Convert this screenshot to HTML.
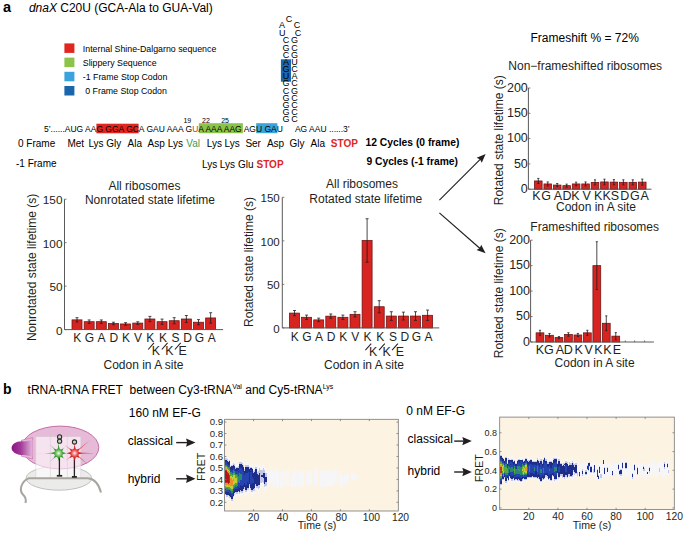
<!DOCTYPE html>
<html><head><meta charset="utf-8"><style>
html,body{margin:0;padding:0;background:#fff;}
svg{display:block;font-family:"Liberation Sans",sans-serif;}
</style></head><body>
<svg width="685" height="535" viewBox="0 0 685 535" fill="#231f20">
<text x="2.9" y="12.1" font-size="14.5" font-weight="bold" fill="#000">a</text>
<text x="28.9" y="12.4" font-size="12" fill="#000"><tspan font-style="italic">dnaX</tspan> C20U (GCA-Ala to GUA-Val)</text>
<rect x="64.40" y="43.40" width="10.00" height="9.50" fill="#e0261f"/>
<text x="82.8" y="51.6" font-size="8.8" fill="#000">Internal Shine-Dalgarno sequence</text>
<rect x="64.40" y="57.60" width="10.00" height="9.50" fill="#8cc34b"/>
<text x="82.8" y="65.8" font-size="8.8" fill="#000">Slippery Sequence</text>
<rect x="64.40" y="71.80" width="10.00" height="9.50" fill="#3ba3dc"/>
<text x="82.8" y="80.0" font-size="8.8" fill="#000">-1 Frame Stop Codon</text>
<rect x="64.40" y="86.00" width="10.00" height="9.50" fill="#1a66ac"/>
<text x="82.8" y="94.2" font-size="8.8" fill="#000">&#160;0 Frame Stop Codon</text>
<rect x="96.40" y="123.70" width="42.20" height="9.60" fill="#e0261f"/>
<rect x="198.80" y="123.20" width="44.10" height="10.00" fill="#8cc34b"/>
<rect x="256.20" y="123.20" width="21.20" height="10.00" fill="#3ba3dc"/>
<text x="183.4" y="122.6" font-size="7" fill="#000">19</text>
<text x="202" y="122.6" font-size="7" fill="#000">22</text>
<text x="221.2" y="122.6" font-size="7" fill="#000">25</text>
<text id="seq" x="44" y="131.9" font-size="8.5" fill="#000" textLength="238.8" lengthAdjust="spacing">5&#8217;......AUG AAG GGA GCA GAU AAA G<tspan fill="#e0261f">U</tspan>A AAA AAG AGU GAU</text>
<text x="294.9" y="131.9" font-size="8.5" fill="#000">AG AAU ......3&#8217;</text>
<rect x="280.90" y="59.30" width="10.10" height="22.40" fill="#1a66ac"/>
<text x="286" y="43.4" font-size="9" text-anchor="middle" fill="#000">C</text>
<text x="294.5" y="43.4" font-size="9" text-anchor="middle" fill="#000">G</text>
<text x="286" y="50.56" font-size="9" text-anchor="middle" fill="#000">G</text>
<text x="294.5" y="50.56" font-size="9" text-anchor="middle" fill="#000">C</text>
<text x="286" y="57.72" font-size="9" text-anchor="middle" fill="#000">C</text>
<text x="294.5" y="57.72" font-size="9" text-anchor="middle" fill="#000">G</text>
<text x="286" y="64.88" font-size="9" text-anchor="middle" fill="#000">A</text>
<text x="294.5" y="64.88" font-size="9" text-anchor="middle" fill="#000">U</text>
<text x="286" y="72.04" font-size="9" text-anchor="middle" fill="#000">G</text>
<text x="294.5" y="72.04" font-size="9" text-anchor="middle" fill="#000">C</text>
<text x="286" y="79.2" font-size="9" text-anchor="middle" fill="#000">U</text>
<text x="294.5" y="79.2" font-size="9" text-anchor="middle" fill="#000">A</text>
<text x="286" y="86.36" font-size="9" text-anchor="middle" fill="#000">G</text>
<text x="294.5" y="86.36" font-size="9" text-anchor="middle" fill="#000">C</text>
<text x="286" y="93.52" font-size="9" text-anchor="middle" fill="#000">C</text>
<text x="294.5" y="93.52" font-size="9" text-anchor="middle" fill="#000">G</text>
<text x="286" y="100.68" font-size="9" text-anchor="middle" fill="#000">G</text>
<text x="294.5" y="100.68" font-size="9" text-anchor="middle" fill="#000">C</text>
<text x="286" y="107.84" font-size="9" text-anchor="middle" fill="#000">G</text>
<text x="294.5" y="107.84" font-size="9" text-anchor="middle" fill="#000">C</text>
<text x="286" y="115.0" font-size="9" text-anchor="middle" fill="#000">G</text>
<text x="294.5" y="115.0" font-size="9" text-anchor="middle" fill="#000">C</text>
<text x="286" y="122.16" font-size="9" text-anchor="middle" fill="#000">G</text>
<text x="294.5" y="122.16" font-size="9" text-anchor="middle" fill="#000">C</text>
<text x="289" y="21.6" font-size="9" text-anchor="middle" fill="#000">C</text>
<text x="282" y="28.3" font-size="9" text-anchor="middle" fill="#000">A</text>
<text x="297" y="28.3" font-size="9" text-anchor="middle" fill="#000">C</text>
<text x="282.3" y="36.2" font-size="9" text-anchor="middle" fill="#000">U</text>
<text x="298" y="36.2" font-size="9" text-anchor="middle" fill="#000">C</text>
<text x="18" y="146.8" font-size="10" fill="#000">0 Frame</text>
<text x="16" y="167.0" font-size="10" fill="#000">-1 Frame</text>
<text x="67.4" y="146.8" font-size="10" fill="#000">Met</text>
<text x="88.4" y="146.8" font-size="10" fill="#000">Lys</text>
<text x="106.2" y="146.8" font-size="10" fill="#000">Gly</text>
<text x="127.6" y="146.8" font-size="10" fill="#000">Ala</text>
<text x="147.6" y="146.8" font-size="10" fill="#000">Asp</text>
<text x="167.7" y="146.8" font-size="10" fill="#000">Lys</text>
<text x="186.3" y="146.8" font-size="10" fill="#3a9a5b">Val</text>
<text x="206.8" y="146.8" font-size="10" fill="#000">Lys</text>
<text x="224.5" y="146.8" font-size="10" fill="#000">Lys</text>
<text x="245.4" y="146.8" font-size="10" fill="#000">Ser</text>
<text x="266.9" y="146.8" font-size="10" fill="#000">Asp</text>
<text x="289.4" y="146.8" font-size="10" fill="#000">Gly</text>
<text x="310.5" y="146.8" font-size="10" fill="#000">Ala</text>
<text x="330.8" y="146.8" font-size="10" font-weight="bold" fill="#e0261f">STOP</text>
<text x="202.1" y="167.5" font-size="10" fill="#000">Lys</text>
<text x="219.8" y="167.5" font-size="10" fill="#000">Lys</text>
<text x="238.1" y="167.5" font-size="10" fill="#000">Glu</text>
<text x="256.5" y="167.5" font-size="10" font-weight="bold" fill="#e0261f">STOP</text>
<text x="365.5" y="145.6" font-size="10.3" font-weight="bold" fill="#000">12 Cycles (0 frame)</text>
<text x="366.4" y="164.8" font-size="10.3" font-weight="bold" fill="#000">9 Cycles (-1 frame)</text>
<line x1="439.40" y1="200.10" x2="480.65" y2="158.85" stroke="#231f20" stroke-width="1.2"/>
<polygon points="485.60,153.90 481.78,162.81 480.08,159.42 476.69,157.72" fill="#231f20"/>
<line x1="439.40" y1="212.90" x2="480.33" y2="248.69" stroke="#231f20" stroke-width="1.2"/>
<polygon points="485.60,253.30 476.46,250.09 479.73,248.17 481.19,244.67" fill="#231f20"/>
<text x="530.5" y="41.6" font-size="12" fill="#000">Frameshift % = 72%</text>
<rect x="72.00" y="319.86" width="10.00" height="9.74" fill="#d82420" stroke="#6a1212" stroke-width="0.75"/>
<line x1="77.00" y1="317.69" x2="77.00" y2="322.04" stroke="#1a1a1a" stroke-width="0.8"/>
<line x1="75.50" y1="317.69" x2="78.50" y2="317.69" stroke="#222" stroke-width="0.8"/>
<line x1="75.50" y1="322.04" x2="78.50" y2="322.04" stroke="#222" stroke-width="0.8"/>
<rect x="84.15" y="321.69" width="10.00" height="7.91" fill="#d82420" stroke="#6a1212" stroke-width="0.75"/>
<line x1="89.15" y1="319.95" x2="89.15" y2="323.43" stroke="#1a1a1a" stroke-width="0.8"/>
<line x1="87.65" y1="319.95" x2="90.65" y2="319.95" stroke="#222" stroke-width="0.8"/>
<line x1="87.65" y1="323.43" x2="90.65" y2="323.43" stroke="#222" stroke-width="0.8"/>
<rect x="96.30" y="321.69" width="10.00" height="7.91" fill="#d82420" stroke="#6a1212" stroke-width="0.75"/>
<line x1="101.30" y1="319.95" x2="101.30" y2="323.43" stroke="#1a1a1a" stroke-width="0.8"/>
<line x1="99.80" y1="319.95" x2="102.80" y2="319.95" stroke="#222" stroke-width="0.8"/>
<line x1="99.80" y1="323.43" x2="102.80" y2="323.43" stroke="#222" stroke-width="0.8"/>
<rect x="108.45" y="323.51" width="10.00" height="6.09" fill="#d82420" stroke="#6a1212" stroke-width="0.75"/>
<line x1="113.45" y1="322.21" x2="113.45" y2="324.82" stroke="#1a1a1a" stroke-width="0.8"/>
<line x1="111.95" y1="322.21" x2="114.95" y2="322.21" stroke="#222" stroke-width="0.8"/>
<line x1="111.95" y1="324.82" x2="114.95" y2="324.82" stroke="#222" stroke-width="0.8"/>
<rect x="120.60" y="323.95" width="10.00" height="5.65" fill="#d82420" stroke="#6a1212" stroke-width="0.75"/>
<line x1="125.60" y1="322.65" x2="125.60" y2="325.25" stroke="#1a1a1a" stroke-width="0.8"/>
<line x1="124.10" y1="322.65" x2="127.10" y2="322.65" stroke="#222" stroke-width="0.8"/>
<line x1="124.10" y1="325.25" x2="127.10" y2="325.25" stroke="#222" stroke-width="0.8"/>
<rect x="132.75" y="323.08" width="10.00" height="6.52" fill="#d82420" stroke="#6a1212" stroke-width="0.75"/>
<line x1="137.75" y1="321.78" x2="137.75" y2="324.38" stroke="#1a1a1a" stroke-width="0.8"/>
<line x1="136.25" y1="321.78" x2="139.25" y2="321.78" stroke="#222" stroke-width="0.8"/>
<line x1="136.25" y1="324.38" x2="139.25" y2="324.38" stroke="#222" stroke-width="0.8"/>
<rect x="144.90" y="318.99" width="10.00" height="10.61" fill="#d82420" stroke="#6a1212" stroke-width="0.75"/>
<line x1="149.90" y1="316.39" x2="149.90" y2="321.60" stroke="#1a1a1a" stroke-width="0.8"/>
<line x1="148.40" y1="316.39" x2="151.40" y2="316.39" stroke="#222" stroke-width="0.8"/>
<line x1="148.40" y1="321.60" x2="151.40" y2="321.60" stroke="#222" stroke-width="0.8"/>
<rect x="157.05" y="321.69" width="10.00" height="7.91" fill="#d82420" stroke="#6a1212" stroke-width="0.75"/>
<line x1="162.05" y1="319.08" x2="162.05" y2="324.30" stroke="#1a1a1a" stroke-width="0.8"/>
<line x1="160.55" y1="319.08" x2="163.55" y2="319.08" stroke="#222" stroke-width="0.8"/>
<line x1="160.55" y1="324.30" x2="163.55" y2="324.30" stroke="#222" stroke-width="0.8"/>
<rect x="169.20" y="320.73" width="10.00" height="8.87" fill="#d82420" stroke="#6a1212" stroke-width="0.75"/>
<line x1="174.20" y1="317.69" x2="174.20" y2="323.78" stroke="#1a1a1a" stroke-width="0.8"/>
<line x1="172.70" y1="317.69" x2="175.70" y2="317.69" stroke="#222" stroke-width="0.8"/>
<line x1="172.70" y1="323.78" x2="175.70" y2="323.78" stroke="#222" stroke-width="0.8"/>
<rect x="181.35" y="318.99" width="10.00" height="10.61" fill="#d82420" stroke="#6a1212" stroke-width="0.75"/>
<line x1="186.35" y1="315.52" x2="186.35" y2="322.47" stroke="#1a1a1a" stroke-width="0.8"/>
<line x1="184.85" y1="315.52" x2="187.85" y2="315.52" stroke="#222" stroke-width="0.8"/>
<line x1="184.85" y1="322.47" x2="187.85" y2="322.47" stroke="#222" stroke-width="0.8"/>
<rect x="193.50" y="322.21" width="10.00" height="7.39" fill="#d82420" stroke="#6a1212" stroke-width="0.75"/>
<line x1="198.50" y1="319.60" x2="198.50" y2="324.82" stroke="#1a1a1a" stroke-width="0.8"/>
<line x1="197.00" y1="319.60" x2="200.00" y2="319.60" stroke="#222" stroke-width="0.8"/>
<line x1="197.00" y1="324.82" x2="200.00" y2="324.82" stroke="#222" stroke-width="0.8"/>
<rect x="205.65" y="317.95" width="10.00" height="11.65" fill="#d82420" stroke="#6a1212" stroke-width="0.75"/>
<line x1="210.65" y1="312.73" x2="210.65" y2="323.17" stroke="#1a1a1a" stroke-width="0.8"/>
<line x1="209.15" y1="312.73" x2="212.15" y2="312.73" stroke="#222" stroke-width="0.8"/>
<line x1="209.15" y1="323.17" x2="212.15" y2="323.17" stroke="#222" stroke-width="0.8"/>
<line x1="64.50" y1="199.20" x2="64.50" y2="329.60" stroke="#5a5a5a" stroke-width="1"/>
<line x1="64.50" y1="329.60" x2="223.10" y2="329.60" stroke="#5a5a5a" stroke-width="1"/>
<line x1="64.50" y1="329.60" x2="66.50" y2="329.60" stroke="#5a5a5a" stroke-width="0.8"/>
<text x="62.5" y="334.5" font-size="11.8" text-anchor="end">0</text>
<line x1="64.50" y1="286.13" x2="66.50" y2="286.13" stroke="#5a5a5a" stroke-width="0.8"/>
<text x="62.5" y="291.03" font-size="11.8" text-anchor="end">50</text>
<line x1="64.50" y1="242.67" x2="66.50" y2="242.67" stroke="#5a5a5a" stroke-width="0.8"/>
<text x="62.5" y="247.57" font-size="11.8" text-anchor="end">100</text>
<line x1="64.50" y1="199.20" x2="66.50" y2="199.20" stroke="#5a5a5a" stroke-width="0.8"/>
<text x="62.5" y="204.1" font-size="11.8" text-anchor="end">150</text>
<text x="77.3" y="341.7" font-size="12" text-anchor="middle">K</text>
<text x="89.45" y="341.7" font-size="12" text-anchor="middle">G</text>
<text x="101.6" y="341.7" font-size="12" text-anchor="middle">A</text>
<text x="113.75" y="341.7" font-size="12" text-anchor="middle">D</text>
<text x="125.9" y="341.7" font-size="12" text-anchor="middle">K</text>
<text x="138.05" y="341.7" font-size="12" text-anchor="middle">V</text>
<text x="150.2" y="341.7" font-size="12" text-anchor="middle">K</text>
<text x="163.05" y="341.7" font-size="12" text-anchor="middle">K</text>
<text x="175.5" y="341.7" font-size="12" text-anchor="middle">S</text>
<text x="187.65" y="341.7" font-size="12" text-anchor="middle">D</text>
<text x="199.5" y="341.7" font-size="12" text-anchor="middle">G</text>
<text x="211.65" y="341.7" font-size="12" text-anchor="middle">A</text>
<text x="144.4" y="190.3" font-size="12" text-anchor="middle">All ribosomes</text>
<text x="150" y="203.6" font-size="12" text-anchor="middle">Nonrotated state lifetime</text>
<text x="0" y="0" font-size="12" text-anchor="middle" fill="#231f20" transform="translate(35.6,267.35) rotate(-90)">Nonrotated state lifetime (s)</text>
<text x="143.5" y="368.8" font-size="12" text-anchor="middle">Codon in A site</text>
<rect x="289.50" y="313.10" width="10.00" height="14.80" fill="#d82420" stroke="#6a1212" stroke-width="0.75"/>
<line x1="294.50" y1="310.49" x2="294.50" y2="315.71" stroke="#1a1a1a" stroke-width="0.8"/>
<line x1="293.00" y1="310.49" x2="296.00" y2="310.49" stroke="#222" stroke-width="0.8"/>
<line x1="293.00" y1="315.71" x2="296.00" y2="315.71" stroke="#222" stroke-width="0.8"/>
<rect x="301.60" y="317.28" width="10.00" height="10.62" fill="#d82420" stroke="#6a1212" stroke-width="0.75"/>
<line x1="306.60" y1="315.10" x2="306.60" y2="319.45" stroke="#1a1a1a" stroke-width="0.8"/>
<line x1="305.10" y1="315.10" x2="308.10" y2="315.10" stroke="#222" stroke-width="0.8"/>
<line x1="305.10" y1="319.45" x2="308.10" y2="319.45" stroke="#222" stroke-width="0.8"/>
<rect x="313.70" y="319.89" width="10.00" height="8.01" fill="#d82420" stroke="#6a1212" stroke-width="0.75"/>
<line x1="318.70" y1="318.15" x2="318.70" y2="321.63" stroke="#1a1a1a" stroke-width="0.8"/>
<line x1="317.20" y1="318.15" x2="320.20" y2="318.15" stroke="#222" stroke-width="0.8"/>
<line x1="317.20" y1="321.63" x2="320.20" y2="321.63" stroke="#222" stroke-width="0.8"/>
<rect x="325.80" y="316.15" width="10.00" height="11.75" fill="#d82420" stroke="#6a1212" stroke-width="0.75"/>
<line x1="330.80" y1="313.97" x2="330.80" y2="318.32" stroke="#1a1a1a" stroke-width="0.8"/>
<line x1="329.30" y1="313.97" x2="332.30" y2="313.97" stroke="#222" stroke-width="0.8"/>
<line x1="329.30" y1="318.32" x2="332.30" y2="318.32" stroke="#222" stroke-width="0.8"/>
<rect x="337.90" y="317.28" width="10.00" height="10.62" fill="#d82420" stroke="#6a1212" stroke-width="0.75"/>
<line x1="342.90" y1="315.10" x2="342.90" y2="319.45" stroke="#1a1a1a" stroke-width="0.8"/>
<line x1="341.40" y1="315.10" x2="344.40" y2="315.10" stroke="#222" stroke-width="0.8"/>
<line x1="341.40" y1="319.45" x2="344.40" y2="319.45" stroke="#222" stroke-width="0.8"/>
<rect x="350.00" y="314.32" width="10.00" height="13.58" fill="#d82420" stroke="#6a1212" stroke-width="0.75"/>
<line x1="355.00" y1="311.71" x2="355.00" y2="316.93" stroke="#1a1a1a" stroke-width="0.8"/>
<line x1="353.50" y1="311.71" x2="356.50" y2="311.71" stroke="#222" stroke-width="0.8"/>
<line x1="353.50" y1="316.93" x2="356.50" y2="316.93" stroke="#222" stroke-width="0.8"/>
<rect x="362.10" y="240.49" width="10.00" height="87.41" fill="#d82420" stroke="#6a1212" stroke-width="0.75"/>
<line x1="367.10" y1="218.72" x2="367.10" y2="262.25" stroke="#1a1a1a" stroke-width="0.8"/>
<line x1="365.60" y1="218.72" x2="368.60" y2="218.72" stroke="#222" stroke-width="0.8"/>
<line x1="365.60" y1="262.25" x2="368.60" y2="262.25" stroke="#222" stroke-width="0.8"/>
<rect x="374.20" y="306.74" width="10.00" height="21.16" fill="#d82420" stroke="#6a1212" stroke-width="0.75"/>
<line x1="379.20" y1="300.65" x2="379.20" y2="312.84" stroke="#1a1a1a" stroke-width="0.8"/>
<line x1="377.70" y1="300.65" x2="380.70" y2="300.65" stroke="#222" stroke-width="0.8"/>
<line x1="377.70" y1="312.84" x2="380.70" y2="312.84" stroke="#222" stroke-width="0.8"/>
<rect x="386.30" y="316.06" width="10.00" height="11.84" fill="#d82420" stroke="#6a1212" stroke-width="0.75"/>
<line x1="391.30" y1="311.71" x2="391.30" y2="320.41" stroke="#1a1a1a" stroke-width="0.8"/>
<line x1="389.80" y1="311.71" x2="392.80" y2="311.71" stroke="#222" stroke-width="0.8"/>
<line x1="389.80" y1="320.41" x2="392.80" y2="320.41" stroke="#222" stroke-width="0.8"/>
<rect x="398.40" y="316.06" width="10.00" height="11.84" fill="#d82420" stroke="#6a1212" stroke-width="0.75"/>
<line x1="403.40" y1="312.14" x2="403.40" y2="319.98" stroke="#1a1a1a" stroke-width="0.8"/>
<line x1="401.90" y1="312.14" x2="404.90" y2="312.14" stroke="#222" stroke-width="0.8"/>
<line x1="401.90" y1="319.98" x2="404.90" y2="319.98" stroke="#222" stroke-width="0.8"/>
<rect x="410.50" y="316.06" width="10.00" height="11.84" fill="#d82420" stroke="#6a1212" stroke-width="0.75"/>
<line x1="415.50" y1="311.71" x2="415.50" y2="320.41" stroke="#1a1a1a" stroke-width="0.8"/>
<line x1="414.00" y1="311.71" x2="417.00" y2="311.71" stroke="#222" stroke-width="0.8"/>
<line x1="414.00" y1="320.41" x2="417.00" y2="320.41" stroke="#222" stroke-width="0.8"/>
<rect x="422.60" y="315.28" width="10.00" height="12.62" fill="#d82420" stroke="#6a1212" stroke-width="0.75"/>
<line x1="427.60" y1="310.05" x2="427.60" y2="320.50" stroke="#1a1a1a" stroke-width="0.8"/>
<line x1="426.10" y1="310.05" x2="429.10" y2="310.05" stroke="#222" stroke-width="0.8"/>
<line x1="426.10" y1="320.50" x2="429.10" y2="320.50" stroke="#222" stroke-width="0.8"/>
<line x1="282.30" y1="197.30" x2="282.30" y2="327.90" stroke="#5a5a5a" stroke-width="1"/>
<line x1="282.30" y1="327.90" x2="439.30" y2="327.90" stroke="#5a5a5a" stroke-width="1"/>
<line x1="282.30" y1="327.90" x2="284.30" y2="327.90" stroke="#5a5a5a" stroke-width="0.8"/>
<text x="279.7" y="332.8" font-size="11.5" text-anchor="end">0</text>
<line x1="282.30" y1="284.37" x2="284.30" y2="284.37" stroke="#5a5a5a" stroke-width="0.8"/>
<text x="279.7" y="289.27" font-size="11.5" text-anchor="end">50</text>
<line x1="282.30" y1="240.83" x2="284.30" y2="240.83" stroke="#5a5a5a" stroke-width="0.8"/>
<text x="279.7" y="245.73" font-size="11.5" text-anchor="end">100</text>
<line x1="282.30" y1="197.30" x2="284.30" y2="197.30" stroke="#5a5a5a" stroke-width="0.8"/>
<text x="279.7" y="202.2" font-size="11.5" text-anchor="end">150</text>
<text x="294.8" y="341.3" font-size="12" text-anchor="middle">K</text>
<text x="306.9" y="341.3" font-size="12" text-anchor="middle">G</text>
<text x="319.0" y="341.3" font-size="12" text-anchor="middle">A</text>
<text x="331.1" y="341.3" font-size="12" text-anchor="middle">D</text>
<text x="343.2" y="341.3" font-size="12" text-anchor="middle">K</text>
<text x="355.3" y="341.3" font-size="12" text-anchor="middle">V</text>
<text x="367.4" y="341.3" font-size="12" text-anchor="middle">K</text>
<text x="380.2" y="341.3" font-size="12" text-anchor="middle">K</text>
<text x="393.1" y="341.3" font-size="12" text-anchor="middle">S</text>
<text x="404.9" y="341.3" font-size="12" text-anchor="middle">D</text>
<text x="416.5" y="341.3" font-size="12" text-anchor="middle">G</text>
<text x="428.6" y="341.3" font-size="12" text-anchor="middle">A</text>
<text x="362" y="188.3" font-size="12" text-anchor="middle">All ribosomes</text>
<text x="365.7" y="202.5" font-size="12" text-anchor="middle">Rotated state lifetime</text>
<text x="0" y="0" font-size="12" text-anchor="middle" fill="#231f20" transform="translate(252.9,262) rotate(-90)">Rotated state lifetime (s)</text>
<text x="364" y="369.3" font-size="12" text-anchor="middle">Codon in A site</text>
<text x="155.9" y="355.1" font-size="12.4" text-anchor="middle">K</text>
<line x1="148.20" y1="349.50" x2="154.00" y2="342.90" stroke="#231f20" stroke-width="1.05"/>
<text x="169.5" y="355.1" font-size="12.4" text-anchor="middle">K</text>
<line x1="161.80" y1="349.50" x2="167.60" y2="342.90" stroke="#231f20" stroke-width="1.05"/>
<text x="182.6" y="355.1" font-size="12.4" text-anchor="middle">E</text>
<line x1="174.90" y1="349.50" x2="180.70" y2="342.90" stroke="#231f20" stroke-width="1.05"/>
<text x="373.1" y="355.8" font-size="12.4" text-anchor="middle">K</text>
<line x1="365.40" y1="350.20" x2="371.20" y2="343.60" stroke="#231f20" stroke-width="1.05"/>
<text x="386.7" y="355.8" font-size="12.4" text-anchor="middle">K</text>
<line x1="379.00" y1="350.20" x2="384.80" y2="343.60" stroke="#231f20" stroke-width="1.05"/>
<text x="399.8" y="355.8" font-size="12.4" text-anchor="middle">E</text>
<line x1="392.10" y1="350.20" x2="397.90" y2="343.60" stroke="#231f20" stroke-width="1.05"/>
<rect x="534.50" y="180.95" width="7.60" height="8.25" fill="#d82420" stroke="#6a1212" stroke-width="0.75"/>
<line x1="538.30" y1="178.42" x2="538.30" y2="183.48" stroke="#1a1a1a" stroke-width="0.8"/>
<line x1="537.20" y1="178.42" x2="539.40" y2="178.42" stroke="#222" stroke-width="0.8"/>
<line x1="537.20" y1="183.48" x2="539.40" y2="183.48" stroke="#222" stroke-width="0.8"/>
<rect x="543.95" y="183.94" width="7.60" height="5.26" fill="#d82420" stroke="#6a1212" stroke-width="0.75"/>
<line x1="547.75" y1="181.91" x2="547.75" y2="185.96" stroke="#1a1a1a" stroke-width="0.8"/>
<line x1="546.65" y1="181.91" x2="548.85" y2="181.91" stroke="#222" stroke-width="0.8"/>
<line x1="546.65" y1="185.96" x2="548.85" y2="185.96" stroke="#222" stroke-width="0.8"/>
<rect x="553.40" y="185.05" width="7.60" height="4.15" fill="#d82420" stroke="#6a1212" stroke-width="0.75"/>
<line x1="557.20" y1="183.53" x2="557.20" y2="186.57" stroke="#1a1a1a" stroke-width="0.8"/>
<line x1="556.10" y1="183.53" x2="558.30" y2="183.53" stroke="#222" stroke-width="0.8"/>
<line x1="556.10" y1="186.57" x2="558.30" y2="186.57" stroke="#222" stroke-width="0.8"/>
<rect x="562.85" y="185.66" width="7.60" height="3.54" fill="#d82420" stroke="#6a1212" stroke-width="0.75"/>
<line x1="566.65" y1="184.14" x2="566.65" y2="187.18" stroke="#1a1a1a" stroke-width="0.8"/>
<line x1="565.55" y1="184.14" x2="567.75" y2="184.14" stroke="#222" stroke-width="0.8"/>
<line x1="565.55" y1="187.18" x2="567.75" y2="187.18" stroke="#222" stroke-width="0.8"/>
<rect x="572.30" y="183.94" width="7.60" height="5.26" fill="#d82420" stroke="#6a1212" stroke-width="0.75"/>
<line x1="576.10" y1="182.17" x2="576.10" y2="185.71" stroke="#1a1a1a" stroke-width="0.8"/>
<line x1="575.00" y1="182.17" x2="577.20" y2="182.17" stroke="#222" stroke-width="0.8"/>
<line x1="575.00" y1="185.71" x2="577.20" y2="185.71" stroke="#222" stroke-width="0.8"/>
<rect x="581.75" y="183.94" width="7.60" height="5.26" fill="#d82420" stroke="#6a1212" stroke-width="0.75"/>
<line x1="585.55" y1="181.91" x2="585.55" y2="185.96" stroke="#1a1a1a" stroke-width="0.8"/>
<line x1="584.45" y1="181.91" x2="586.65" y2="181.91" stroke="#222" stroke-width="0.8"/>
<line x1="584.45" y1="185.96" x2="586.65" y2="185.96" stroke="#222" stroke-width="0.8"/>
<rect x="591.20" y="182.37" width="7.60" height="6.83" fill="#d82420" stroke="#6a1212" stroke-width="0.75"/>
<line x1="595.00" y1="179.84" x2="595.00" y2="184.90" stroke="#1a1a1a" stroke-width="0.8"/>
<line x1="593.90" y1="179.84" x2="596.10" y2="179.84" stroke="#222" stroke-width="0.8"/>
<line x1="593.90" y1="184.90" x2="596.10" y2="184.90" stroke="#222" stroke-width="0.8"/>
<rect x="600.65" y="181.96" width="7.60" height="7.24" fill="#d82420" stroke="#6a1212" stroke-width="0.75"/>
<line x1="604.45" y1="179.18" x2="604.45" y2="184.75" stroke="#1a1a1a" stroke-width="0.8"/>
<line x1="603.35" y1="179.18" x2="605.55" y2="179.18" stroke="#222" stroke-width="0.8"/>
<line x1="603.35" y1="184.75" x2="605.55" y2="184.75" stroke="#222" stroke-width="0.8"/>
<rect x="610.10" y="182.12" width="7.60" height="7.08" fill="#d82420" stroke="#6a1212" stroke-width="0.75"/>
<line x1="613.90" y1="179.59" x2="613.90" y2="184.65" stroke="#1a1a1a" stroke-width="0.8"/>
<line x1="612.80" y1="179.59" x2="615.00" y2="179.59" stroke="#222" stroke-width="0.8"/>
<line x1="612.80" y1="184.65" x2="615.00" y2="184.65" stroke="#222" stroke-width="0.8"/>
<rect x="619.55" y="182.32" width="7.60" height="6.88" fill="#d82420" stroke="#6a1212" stroke-width="0.75"/>
<line x1="623.35" y1="179.79" x2="623.35" y2="184.85" stroke="#1a1a1a" stroke-width="0.8"/>
<line x1="622.25" y1="179.79" x2="624.45" y2="179.79" stroke="#222" stroke-width="0.8"/>
<line x1="622.25" y1="184.85" x2="624.45" y2="184.85" stroke="#222" stroke-width="0.8"/>
<rect x="629.00" y="182.32" width="7.60" height="6.88" fill="#d82420" stroke="#6a1212" stroke-width="0.75"/>
<line x1="632.80" y1="179.79" x2="632.80" y2="184.85" stroke="#1a1a1a" stroke-width="0.8"/>
<line x1="631.70" y1="179.79" x2="633.90" y2="179.79" stroke="#222" stroke-width="0.8"/>
<line x1="631.70" y1="184.85" x2="633.90" y2="184.85" stroke="#222" stroke-width="0.8"/>
<rect x="638.45" y="182.12" width="7.60" height="7.08" fill="#d82420" stroke="#6a1212" stroke-width="0.75"/>
<line x1="642.25" y1="179.08" x2="642.25" y2="185.15" stroke="#1a1a1a" stroke-width="0.8"/>
<line x1="641.15" y1="179.08" x2="643.35" y2="179.08" stroke="#222" stroke-width="0.8"/>
<line x1="641.15" y1="185.15" x2="643.35" y2="185.15" stroke="#222" stroke-width="0.8"/>
<line x1="528.40" y1="88.00" x2="528.40" y2="189.20" stroke="#5a5a5a" stroke-width="1"/>
<line x1="528.40" y1="189.20" x2="651.50" y2="189.20" stroke="#5a5a5a" stroke-width="1"/>
<line x1="528.40" y1="189.20" x2="530.40" y2="189.20" stroke="#5a5a5a" stroke-width="0.8"/>
<text x="527.8" y="192.8" font-size="12.5" text-anchor="end">0</text>
<line x1="528.40" y1="163.90" x2="530.40" y2="163.90" stroke="#5a5a5a" stroke-width="0.8"/>
<text x="527.8" y="167.5" font-size="12.5" text-anchor="end">50</text>
<line x1="528.40" y1="138.60" x2="530.40" y2="138.60" stroke="#5a5a5a" stroke-width="0.8"/>
<text x="527.8" y="142.2" font-size="12.5" text-anchor="end">100</text>
<line x1="528.40" y1="113.30" x2="530.40" y2="113.30" stroke="#5a5a5a" stroke-width="0.8"/>
<text x="527.8" y="116.9" font-size="12.5" text-anchor="end">150</text>
<line x1="528.40" y1="88.00" x2="530.40" y2="88.00" stroke="#5a5a5a" stroke-width="0.8"/>
<text x="527.8" y="91.6" font-size="12.5" text-anchor="end">200</text>
<text x="536.3" y="199.8" font-size="12.5" text-anchor="middle">K</text>
<text x="546.05" y="199.8" font-size="12.5" text-anchor="middle">G</text>
<text x="557.9" y="199.8" font-size="12.5" text-anchor="middle">A</text>
<text x="566.95" y="199.8" font-size="12.5" text-anchor="middle">D</text>
<text x="575.4" y="199.8" font-size="12.5" text-anchor="middle">K</text>
<text x="586.75" y="199.8" font-size="12.5" text-anchor="middle">V</text>
<text x="598.1" y="199.8" font-size="12.5" text-anchor="middle">K</text>
<text x="606.55" y="199.8" font-size="12.5" text-anchor="middle">K</text>
<text x="614.8" y="199.8" font-size="12.5" text-anchor="middle">S</text>
<text x="624.75" y="199.8" font-size="12.5" text-anchor="middle">D</text>
<text x="634.9" y="199.8" font-size="12.5" text-anchor="middle">G</text>
<text x="644.55" y="199.8" font-size="12.5" text-anchor="middle">A</text>
<text x="585.2" y="70.3" font-size="12" text-anchor="middle">Non−frameshifted ribosomes</text>
<text x="0" y="0" font-size="12" text-anchor="middle" fill="#231f20" transform="translate(502.7,140.2) rotate(-90)">Rotated state lifetime (s)</text>
<text x="596" y="210.8" font-size="12" text-anchor="middle">Codon in A site</text>
<rect x="536.10" y="332.84" width="7.80" height="9.16" fill="#d82420" stroke="#6a1212" stroke-width="0.75"/>
<line x1="540.00" y1="330.29" x2="540.00" y2="335.38" stroke="#1a1a1a" stroke-width="0.8"/>
<line x1="538.90" y1="330.29" x2="541.10" y2="330.29" stroke="#222" stroke-width="0.8"/>
<line x1="538.90" y1="335.38" x2="541.10" y2="335.38" stroke="#222" stroke-width="0.8"/>
<rect x="545.57" y="335.28" width="7.80" height="6.72" fill="#d82420" stroke="#6a1212" stroke-width="0.75"/>
<line x1="549.47" y1="333.50" x2="549.47" y2="337.06" stroke="#1a1a1a" stroke-width="0.8"/>
<line x1="548.37" y1="333.50" x2="550.57" y2="333.50" stroke="#222" stroke-width="0.8"/>
<line x1="548.37" y1="337.06" x2="550.57" y2="337.06" stroke="#222" stroke-width="0.8"/>
<rect x="555.04" y="337.57" width="7.80" height="4.43" fill="#d82420" stroke="#6a1212" stroke-width="0.75"/>
<line x1="558.94" y1="336.55" x2="558.94" y2="338.59" stroke="#1a1a1a" stroke-width="0.8"/>
<line x1="557.84" y1="336.55" x2="560.04" y2="336.55" stroke="#222" stroke-width="0.8"/>
<line x1="557.84" y1="338.59" x2="560.04" y2="338.59" stroke="#222" stroke-width="0.8"/>
<rect x="564.51" y="334.47" width="7.80" height="7.53" fill="#d82420" stroke="#6a1212" stroke-width="0.75"/>
<line x1="568.41" y1="332.69" x2="568.41" y2="336.25" stroke="#1a1a1a" stroke-width="0.8"/>
<line x1="567.31" y1="332.69" x2="569.51" y2="332.69" stroke="#222" stroke-width="0.8"/>
<line x1="567.31" y1="336.25" x2="569.51" y2="336.25" stroke="#222" stroke-width="0.8"/>
<rect x="573.98" y="334.98" width="7.80" height="7.02" fill="#d82420" stroke="#6a1212" stroke-width="0.75"/>
<line x1="577.88" y1="333.45" x2="577.88" y2="336.50" stroke="#1a1a1a" stroke-width="0.8"/>
<line x1="576.78" y1="333.45" x2="578.98" y2="333.45" stroke="#222" stroke-width="0.8"/>
<line x1="576.78" y1="336.50" x2="578.98" y2="336.50" stroke="#222" stroke-width="0.8"/>
<rect x="583.45" y="332.84" width="7.80" height="9.16" fill="#d82420" stroke="#6a1212" stroke-width="0.75"/>
<line x1="587.35" y1="330.29" x2="587.35" y2="335.38" stroke="#1a1a1a" stroke-width="0.8"/>
<line x1="586.25" y1="330.29" x2="588.45" y2="330.29" stroke="#222" stroke-width="0.8"/>
<line x1="586.25" y1="335.38" x2="588.45" y2="335.38" stroke="#222" stroke-width="0.8"/>
<rect x="592.92" y="265.65" width="7.80" height="76.35" fill="#d82420" stroke="#6a1212" stroke-width="0.75"/>
<line x1="596.82" y1="241.73" x2="596.82" y2="289.57" stroke="#1a1a1a" stroke-width="0.8"/>
<line x1="595.72" y1="241.73" x2="597.92" y2="241.73" stroke="#222" stroke-width="0.8"/>
<line x1="595.72" y1="289.57" x2="597.92" y2="289.57" stroke="#222" stroke-width="0.8"/>
<rect x="602.39" y="323.27" width="7.80" height="18.73" fill="#d82420" stroke="#6a1212" stroke-width="0.75"/>
<line x1="606.29" y1="315.89" x2="606.29" y2="330.65" stroke="#1a1a1a" stroke-width="0.8"/>
<line x1="605.19" y1="315.89" x2="607.39" y2="315.89" stroke="#222" stroke-width="0.8"/>
<line x1="605.19" y1="330.65" x2="607.39" y2="330.65" stroke="#222" stroke-width="0.8"/>
<rect x="611.86" y="336.15" width="7.80" height="5.85" fill="#d82420" stroke="#6a1212" stroke-width="0.75"/>
<line x1="615.76" y1="332.58" x2="615.76" y2="339.71" stroke="#1a1a1a" stroke-width="0.8"/>
<line x1="614.66" y1="332.58" x2="616.86" y2="332.58" stroke="#222" stroke-width="0.8"/>
<line x1="614.66" y1="339.71" x2="616.86" y2="339.71" stroke="#222" stroke-width="0.8"/>
<line x1="625.30" y1="340.50" x2="625.30" y2="342.00" stroke="#444" stroke-width="0.8"/>
<line x1="634.60" y1="340.50" x2="634.60" y2="342.00" stroke="#444" stroke-width="0.8"/>
<line x1="644.60" y1="340.50" x2="644.60" y2="342.00" stroke="#444" stroke-width="0.8"/>
<line x1="530.60" y1="240.20" x2="530.60" y2="342.00" stroke="#5a5a5a" stroke-width="1"/>
<line x1="530.60" y1="342.00" x2="653.90" y2="342.00" stroke="#5a5a5a" stroke-width="1"/>
<line x1="530.60" y1="342.00" x2="532.60" y2="342.00" stroke="#5a5a5a" stroke-width="0.8"/>
<text x="530.0" y="345.8" font-size="12.5" text-anchor="end">0</text>
<line x1="530.60" y1="316.55" x2="532.60" y2="316.55" stroke="#5a5a5a" stroke-width="0.8"/>
<text x="530.0" y="320.35" font-size="12.5" text-anchor="end">50</text>
<line x1="530.60" y1="291.10" x2="532.60" y2="291.10" stroke="#5a5a5a" stroke-width="0.8"/>
<text x="530.0" y="294.9" font-size="12.5" text-anchor="end">100</text>
<line x1="530.60" y1="265.65" x2="532.60" y2="265.65" stroke="#5a5a5a" stroke-width="0.8"/>
<text x="530.0" y="269.45" font-size="12.5" text-anchor="end">150</text>
<line x1="530.60" y1="240.20" x2="532.60" y2="240.20" stroke="#5a5a5a" stroke-width="0.8"/>
<text x="530.0" y="244.0" font-size="12.5" text-anchor="end">200</text>
<text x="539.9" y="353.8" font-size="12.5" text-anchor="middle">K</text>
<text x="548.77" y="353.8" font-size="12.5" text-anchor="middle">G</text>
<text x="559.94" y="353.8" font-size="12.5" text-anchor="middle">A</text>
<text x="568.31" y="353.8" font-size="12.5" text-anchor="middle">D</text>
<text x="578.58" y="353.8" font-size="12.5" text-anchor="middle">K</text>
<text x="588.55" y="353.8" font-size="12.5" text-anchor="middle">V</text>
<text x="598.32" y="353.8" font-size="12.5" text-anchor="middle">K</text>
<text x="607.49" y="353.8" font-size="12.5" text-anchor="middle">K</text>
<text x="616.96" y="353.8" font-size="12.5" text-anchor="middle">E</text>
<text x="625.23" y="353.8" font-size="12.5" text-anchor="middle"></text>
<text x="634.7" y="353.8" font-size="12.5" text-anchor="middle"></text>
<text x="644.17" y="353.8" font-size="12.5" text-anchor="middle"></text>
<text x="594.7" y="230.5" font-size="12" text-anchor="middle">Frameshifted ribosomes</text>
<text x="0" y="0" font-size="12" text-anchor="middle" fill="#231f20" transform="translate(502.9,293.25) rotate(-90)">Rotated state lifetime (s)</text>
<text x="594.6" y="367" font-size="12" text-anchor="middle">Codon in A site</text>
<text x="2.9" y="393.5" font-size="14" font-weight="bold" fill="#000">b</text>
<text x="27.6" y="393.5" font-size="12" fill="#000">tRNA-tRNA FRET&#160; between Cy3-tRNA<tspan font-size="7" dy="-4.2">Val</tspan><tspan dy="4.2"> and Cy5-tRNA</tspan><tspan font-size="7" dy="-4.2">Lys</tspan></text>
<defs><linearGradient id="nose" x1="0" x2="1" y1="0" y2="0"><stop offset="0" stop-color="#8c1482"/><stop offset="0.45" stop-color="#a33a98"/><stop offset="1" stop-color="#e2b6da"/></linearGradient><radialGradient id="g_3f9e3a"><stop offset="0" stop-color="#f4fbf0"/><stop offset="0.5" stop-color="#8fd07a"/><stop offset="1" stop-color="#3f9e3a"/></radialGradient><radialGradient id="g_d8282a"><stop offset="0" stop-color="#fdf0f0"/><stop offset="0.5" stop-color="#f08080"/><stop offset="1" stop-color="#d8282a"/></radialGradient></defs>
<ellipse cx="58.85" cy="478.2" rx="32.75" ry="12" fill="#ebebea" stroke="#a9a9a6" stroke-width="0.7"/>
<ellipse cx="60.3" cy="447.5" rx="38.5" ry="21.4" fill="#e6bbd8" stroke="#c0609e" stroke-width="0.9"/>
<path d="M21.5,440.2 L32.6,437.6 L32.6,459 L21.5,456.3 Z" fill="#e8b4dc" stroke="#c76aa8" stroke-width="0.6"/>
<path d="M24,441.5 C17,440.5 11.6,444 11.6,448 C11.6,452 17,455.5 24,455 L32.4,456.5 L32.4,440 Z" fill="url(#nose)"/>
<rect x="35.8" y="436.8" width="45" height="41.2" fill="#ffffff" opacity="0.6"/>
<line x1="35.80" y1="436.50" x2="35.80" y2="478.00" stroke="#d8c8d4" stroke-width="0.5"/>
<line x1="50.40" y1="436.50" x2="50.40" y2="478.00" stroke="#d8c8d4" stroke-width="0.5"/>
<line x1="67.40" y1="436.50" x2="67.40" y2="478.00" stroke="#d8c8d4" stroke-width="0.5"/>
<line x1="80.80" y1="436.50" x2="80.80" y2="478.00" stroke="#d8c8d4" stroke-width="0.5"/>
<line x1="35.80" y1="436.50" x2="80.80" y2="436.50" stroke="#d8c8d4" stroke-width="0.5"/>
<line x1="35.80" y1="453.60" x2="80.80" y2="453.60" stroke="#e8dce6" stroke-width="0.4"/>
<path d="M25.4,503 C27,499 25,496.5 22.5,494 C19.5,490.5 20.5,482 28.5,478.3 L88,478.3 C95,479 99,485 101,492.6" fill="none" stroke="#a8a59e" stroke-width="2"/>
<line x1="59.40" y1="453.00" x2="59.40" y2="475.50" stroke="#2a2222" stroke-width="1.3"/>
<line x1="56.80" y1="475.80" x2="62.20" y2="475.80" stroke="#231f20" stroke-width="1.7"/>
<line x1="74.40" y1="453.00" x2="74.40" y2="476.60" stroke="#2a2222" stroke-width="1.3"/>
<line x1="71.90" y1="476.90" x2="76.90" y2="476.90" stroke="#231f20" stroke-width="1.7"/>
<polygon points="58.60,442.20 59.70,453.20 58.60,454.70 57.50,453.20" fill="#3f9e3a" opacity="1.0"/>
<polygon points="44.60,453.20 58.60,452.30 60.10,453.20 58.60,454.10" fill="#3f9e3a" opacity="0.75"/>
<polygon points="64.60,453.20 58.60,454.10 57.10,453.20 58.60,452.30" fill="#3f9e3a" opacity="0.6"/>
<polygon points="49.41,444.01 59.17,452.63 59.66,454.26 58.03,453.77" fill="#3f9e3a" opacity="0.6"/>
<polygon points="49.41,462.39 58.03,452.63 59.66,452.14 59.17,453.77" fill="#3f9e3a" opacity="0.55"/>
<polygon points="64.96,446.84 59.17,453.77 57.54,454.26 58.03,452.63" fill="#3f9e3a" opacity="0.5"/>
<polygon points="64.96,459.56 58.03,453.77 57.54,452.14 59.17,452.63" fill="#3f9e3a" opacity="0.5"/>
<polygon points="66.40,453.20 61.83,454.54 63.41,458.01 59.94,456.43 58.60,461.00 57.26,456.43 53.79,458.01 55.37,454.54 50.80,453.20 55.37,451.86 53.79,448.39 57.26,449.97 58.60,445.40 59.94,449.97 63.41,448.39 61.83,451.86" fill="#349a32"/>
<circle cx="58.6" cy="453.2" r="4.3" fill="url(#g_3f9e3a)"/>
<polygon points="74.60,443.20 75.70,453.20 74.60,454.70 73.50,453.20" fill="#d8282a" opacity="1.0"/>
<polygon points="94.60,453.20 74.60,454.10 73.10,453.20 74.60,452.30" fill="#d8282a" opacity="0.7"/>
<polygon points="65.60,453.20 74.60,452.30 76.10,453.20 74.60,454.10" fill="#d8282a" opacity="0.7"/>
<polygon points="89.92,440.34 75.11,453.81 73.45,454.16 74.09,452.59" fill="#d8282a" opacity="0.6"/>
<polygon points="88.39,464.77 74.09,453.81 73.45,452.24 75.11,452.59" fill="#d8282a" opacity="0.55"/>
<polygon points="64.64,444.84 75.11,452.59 75.75,454.16 74.09,453.81" fill="#d8282a" opacity="0.6"/>
<polygon points="65.41,460.91 74.09,452.59 75.75,452.24 75.11,453.81" fill="#d8282a" opacity="0.5"/>
<polygon points="82.40,453.20 77.83,454.54 79.41,458.01 75.94,456.43 74.60,461.00 73.26,456.43 69.79,458.01 71.37,454.54 66.80,453.20 71.37,451.86 69.79,448.39 73.26,449.97 74.60,445.40 75.94,449.97 79.41,448.39 77.83,451.86" fill="#d02626"/>
<circle cx="74.6" cy="453.2" r="4.3" fill="url(#g_d8282a)"/>
<circle cx="59.6" cy="436.9" r="2.1" fill="#cfd2c4" stroke="#2e2e2e" stroke-width="1.1"/>
<circle cx="59.6" cy="441.2" r="2.1" fill="#cfd2c4" stroke="#2e2e2e" stroke-width="1.1"/>
<circle cx="74.5" cy="442" r="2.1" fill="#cfd2c4" stroke="#2e2e2e" stroke-width="1.1"/>
<text x="128.8" y="417" font-size="12" fill="#000">160 nM EF-G</text>
<text x="406.3" y="415.1" font-size="12" fill="#000">0 nM EF-G</text>
<text x="127.7" y="444.9" font-size="12" fill="#000">classical</text>
<text x="127.7" y="482.6" font-size="12" fill="#000">hybrid</text>
<text x="407.6" y="442.9" font-size="12" fill="#000">classical</text>
<text x="407.6" y="475.1" font-size="12" fill="#000">hybrid</text>
<line x1="176.20" y1="442.60" x2="188.00" y2="442.60" stroke="#231f20" stroke-width="1.4"/>
<polygon points="195.50,442.60 186.00,446.80 187.20,442.60 186.00,438.40" fill="#231f20"/>
<line x1="176.20" y1="478.80" x2="188.00" y2="478.80" stroke="#231f20" stroke-width="1.4"/>
<polygon points="195.50,478.80 186.00,483.00 187.20,478.80 186.00,474.60" fill="#231f20"/>
<line x1="454.20" y1="441.10" x2="464.30" y2="441.10" stroke="#231f20" stroke-width="1.4"/>
<polygon points="471.80,441.10 462.30,445.30 463.50,441.10 462.30,436.90" fill="#231f20"/>
<line x1="454.20" y1="472.00" x2="464.30" y2="472.00" stroke="#231f20" stroke-width="1.4"/>
<polygon points="471.80,472.00 462.30,476.20 463.50,472.00 462.30,467.80" fill="#231f20"/>
<rect x="224.60" y="419.30" width="173.70" height="91.70" fill="#fcf3e3"/>
<g shape-rendering="crispEdges">
<path fill="#f6f5f7" d="M225.1 456.2h1.40V497.2h-1.40zM225.1 464.4h1.40V475.1h-1.40zM226.3 456.8h1.40V498.9h-1.40zM227.6 458.4h1.40V498.3h-1.40zM228.8 457.5h1.40V500.0h-1.40zM228.8 480.6h1.40V490.7h-1.40zM230.1 463.4h1.40V500.0h-1.40zM231.3 462.2h1.40V503.3h-1.40zM232.6 460.8h1.40V499.5h-1.40zM232.6 466.7h1.40V476.7h-1.40zM233.8 462.1h1.40V496.9h-1.40zM233.8 468.4h1.40V478.5h-1.40zM235.1 465.4h1.40V495.0h-1.40zM236.3 464.1h1.40V496.3h-1.40zM237.6 463.6h1.40V494.9h-1.40zM237.6 466.4h1.40V475.0h-1.40zM238.8 458.7h1.40V497.2h-1.40zM238.8 467.9h1.40V476.1h-1.40zM240.1 458.9h1.40V494.6h-1.40zM241.3 459.6h1.40V496.1h-1.40zM241.3 465.6h1.40V473.6h-1.40zM242.6 462.6h1.40V494.0h-1.40zM242.6 482.4h1.40V490.4h-1.40zM243.8 466.7h1.40V490.9h-1.40zM245.1 461.9h1.40V495.7h-1.40zM246.3 462.1h1.40V493.1h-1.40zM246.3 468.3h1.40V474.8h-1.40zM247.6 461.7h1.40V493.1h-1.40zM247.6 480.5h1.40V487.8h-1.40zM248.8 463.7h1.40V488.9h-1.40zM250.1 464.6h1.40V492.2h-1.40zM250.1 466.0h1.40V474.7h-1.40zM251.3 464.2h1.40V495.8h-1.40zM251.3 466.9h1.40V474.2h-1.40zM252.6 467.8h1.40V493.9h-1.40zM252.6 481.1h1.40V487.2h-1.40zM253.8 466.8h1.40V493.5h-1.40zM253.8 482.4h1.40V489.8h-1.40zM255.1 463.5h1.40V489.1h-1.40zM256.4 469.0h1.40V490.4h-1.40zM257.6 466.3h1.40V493.2h-1.40zM257.6 467.6h1.40V470.3h-1.40zM258.9 465.7h1.40V492.0h-1.40zM258.9 465.8h1.40V471.7h-1.40zM260.1 465.0h1.40V487.8h-1.40zM261.4 466.2h1.40V485.5h-1.40zM262.6 463.2h1.40V488.0h-1.40zM262.6 471.7h1.40V475.4h-1.40zM263.9 465.5h1.40V491.4h-1.40zM265.1 469.1h1.40V490.4h-1.40zM266.4 469.9h1.40V485.5h-1.40zM267.6 470.7h1.40V486.3h-1.40zM268.9 470.9h1.40V486.3h-1.40zM270.1 469.8h1.40V482.9h-1.40zM271.4 469.0h1.40V483.9h-1.40zM272.6 472.2h1.40V488.6h-1.40zM273.9 470.7h1.40V486.7h-1.40zM275.1 467.5h1.40V484.5h-1.40zM276.4 472.1h1.40V487.6h-1.40zM277.6 472.2h1.40V486.6h-1.40zM280.1 472.1h1.40V486.6h-1.40zM281.4 472.3h1.40V486.7h-1.40zM282.6 469.6h1.40V485.9h-1.40zM285.1 471.0h1.40V485.0h-1.40zM286.4 470.4h1.40V483.7h-1.40zM287.6 471.6h1.40V486.1h-1.40zM288.9 467.8h1.40V481.6h-1.40zM291.4 473.5h1.40V486.9h-1.40zM292.6 470.8h1.40V484.7h-1.40zM293.9 470.0h1.40V486.6h-1.40zM295.1 471.1h1.40V487.4h-1.40zM297.6 469.2h1.40V484.5h-1.40zM298.9 472.2h1.40V485.8h-1.40zM300.1 470.9h1.40V487.4h-1.40zM301.4 471.0h1.40V486.4h-1.40zM302.6 472.7h1.40V488.5h-1.40zM306.4 470.6h1.40V483.7h-1.40zM307.6 471.1h1.40V487.0h-1.40zM308.9 470.3h1.40V485.3h-1.40zM310.1 471.4h1.40V485.2h-1.40zM313.9 470.2h1.40V485.8h-1.40zM315.1 467.5h1.40V483.0h-1.40zM316.4 470.8h1.40V484.6h-1.40zM320.1 471.0h1.40V487.0h-1.40zM321.4 471.0h1.40V486.7h-1.40zM323.9 469.7h1.40V486.5h-1.40zM325.1 470.4h1.40V485.7h-1.40zM326.4 472.0h1.40V486.1h-1.40zM327.6 470.3h1.40V485.0h-1.40zM328.9 471.6h1.40V486.1h-1.40zM330.1 470.8h1.40V486.6h-1.40zM331.4 472.4h1.40V485.9h-1.40zM332.6 469.7h1.40V483.5h-1.40zM333.9 470.3h1.40V482.6h-1.40zM335.1 469.1h1.40V483.7h-1.40zM338.9 468.9h1.40V482.1h-1.40zM340.1 473.6h1.40V486.5h-1.40zM341.4 474.7h1.40V484.9h-1.40zM343.9 473.9h1.40V484.5h-1.40zM345.1 474.5h1.40V482.8h-1.40zM346.4 474.2h1.40V482.6h-1.40zM347.6 472.8h1.40V482.3h-1.40zM351.4 474.1h1.40V480.1h-1.40zM352.6 472.2h1.40V478.9h-1.40zM353.9 476.3h1.40V480.6h-1.40zM355.1 474.2h1.40V478.4h-1.40zM356.4 476.6h1.40V478.7h-1.40z"/>
<path fill="#c4c8e4" d="M225.1 458.4h1.40V495.0h-1.40zM225.1 465.1h1.40V474.3h-1.40zM226.3 459.2h1.40V496.6h-1.40zM227.6 460.6h1.40V496.1h-1.40zM228.8 460.0h1.40V497.5h-1.40zM228.8 481.4h1.40V489.9h-1.40zM230.1 465.7h1.40V497.8h-1.40zM231.3 464.8h1.40V500.7h-1.40zM232.6 463.3h1.40V497.0h-1.40zM232.6 467.5h1.40V475.9h-1.40zM233.8 464.4h1.40V494.7h-1.40zM233.8 469.2h1.40V477.8h-1.40zM235.1 467.4h1.40V493.0h-1.40zM236.3 466.5h1.40V493.9h-1.40zM237.6 466.2h1.40V492.3h-1.40zM237.6 467.4h1.40V474.1h-1.40zM238.8 461.8h1.40V494.1h-1.40zM238.8 469.0h1.40V475.1h-1.40zM240.1 461.9h1.40V491.6h-1.40zM241.3 462.8h1.40V492.9h-1.40zM241.3 466.6h1.40V472.5h-1.40zM242.6 465.4h1.40V491.2h-1.40zM242.6 483.4h1.40V489.4h-1.40zM243.8 469.1h1.40V488.5h-1.40zM245.1 465.2h1.40V492.4h-1.40zM246.3 465.2h1.40V490.0h-1.40zM246.3 469.8h1.40V473.3h-1.40zM247.6 464.8h1.40V490.0h-1.40zM247.6 481.7h1.40V486.6h-1.40zM248.8 466.7h1.40V485.9h-1.40zM250.1 467.0h1.40V489.8h-1.40zM250.1 466.9h1.40V473.7h-1.40zM251.3 467.6h1.40V492.4h-1.40zM251.3 468.1h1.40V472.9h-1.40zM252.6 470.7h1.40V491.0h-1.40zM252.6 482.7h1.40V485.5h-1.40zM253.8 469.8h1.40V490.5h-1.40zM253.8 483.5h1.40V488.7h-1.40zM255.1 466.6h1.40V486.0h-1.40zM256.4 471.8h1.40V487.7h-1.40zM257.6 470.8h1.40V488.7h-1.40zM258.9 469.7h1.40V488.0h-1.40zM258.9 467.7h1.40V469.8h-1.40zM260.1 469.9h1.40V483.0h-1.40zM261.4 470.1h1.40V481.6h-1.40zM262.6 468.1h1.40V483.2h-1.40zM263.9 469.6h1.40V487.4h-1.40zM265.1 473.1h1.40V486.3h-1.40z"/>
<path fill="#1e2d8a" d="M225.1 459.7h1.40V493.7h-1.40zM225.1 465.6h1.40V473.9h-1.40zM226.3 460.6h1.40V495.1h-1.40zM227.6 461.9h1.40V494.8h-1.40zM228.8 461.4h1.40V496.0h-1.40zM228.8 481.9h1.40V489.5h-1.40zM230.1 467.0h1.40V496.5h-1.40zM231.3 466.4h1.40V499.2h-1.40zM232.6 464.8h1.40V495.5h-1.40zM232.6 467.9h1.40V475.4h-1.40zM233.8 465.7h1.40V493.3h-1.40zM233.8 469.7h1.40V477.3h-1.40zM235.1 468.6h1.40V491.8h-1.40zM236.3 468.0h1.40V492.4h-1.40zM237.6 467.8h1.40V490.7h-1.40zM237.6 468.0h1.40V473.4h-1.40zM238.8 463.7h1.40V492.2h-1.40zM238.8 469.7h1.40V474.3h-1.40zM240.1 463.8h1.40V489.8h-1.40zM241.3 464.8h1.40V490.9h-1.40zM241.3 467.4h1.40V471.7h-1.40zM242.6 467.2h1.40V489.4h-1.40zM242.6 484.2h1.40V488.6h-1.40zM243.8 470.6h1.40V487.0h-1.40zM245.1 467.2h1.40V490.4h-1.40zM246.3 467.3h1.40V488.0h-1.40zM247.6 466.8h1.40V488.0h-1.40zM247.6 482.7h1.40V485.6h-1.40zM248.8 468.7h1.40V483.9h-1.40zM250.1 468.6h1.40V488.2h-1.40zM250.1 467.6h1.40V473.1h-1.40zM251.3 469.9h1.40V490.1h-1.40zM251.3 469.1h1.40V471.9h-1.40zM252.6 472.6h1.40V489.1h-1.40zM253.8 471.8h1.40V488.4h-1.40zM253.8 484.4h1.40V487.7h-1.40zM255.1 468.6h1.40V484.0h-1.40zM256.4 473.7h1.40V485.7h-1.40zM257.6 474.6h1.40V485.0h-1.40zM258.9 472.8h1.40V484.9h-1.40zM261.4 474.9h1.40V476.8h-1.40zM262.6 473.2h1.40V478.0h-1.40zM263.9 472.8h1.40V484.1h-1.40zM265.1 477.2h1.40V482.2h-1.40z"/>
<path fill="#2544b0" d="M225.1 462.4h1.40V491.0h-1.40zM225.1 466.6h1.40V472.9h-1.40zM226.3 463.5h1.40V492.2h-1.40zM227.6 464.6h1.40V492.1h-1.40zM228.8 464.6h1.40V492.9h-1.40zM228.8 483.0h1.40V488.3h-1.40zM230.1 469.8h1.40V493.6h-1.40zM231.3 469.7h1.40V495.8h-1.40zM232.6 468.0h1.40V492.2h-1.40zM232.6 469.1h1.40V474.2h-1.40zM233.8 468.7h1.40V490.3h-1.40zM233.8 470.8h1.40V476.1h-1.40zM235.1 471.2h1.40V489.1h-1.40zM236.3 471.2h1.40V489.2h-1.40zM237.6 471.7h1.40V486.8h-1.40zM237.6 470.3h1.40V471.1h-1.40zM238.8 468.2h1.40V487.8h-1.40zM240.1 468.2h1.40V485.4h-1.40zM241.3 469.8h1.40V485.9h-1.40zM242.6 471.7h1.40V485.0h-1.40zM243.8 474.7h1.40V482.9h-1.40zM245.1 472.7h1.40V484.9h-1.40zM246.3 472.9h1.40V482.4h-1.40zM247.6 472.3h1.40V482.5h-1.40zM250.1 472.4h1.40V484.4h-1.40zM250.1 469.7h1.40V470.9h-1.40zM251.3 477.1h1.40V482.9h-1.40zM252.6 479.2h1.40V482.5h-1.40z"/>
<path fill="#2a8a70" d="M225.1 464.6h1.40V488.8h-1.40zM225.1 467.5h1.40V472.0h-1.40zM226.3 465.9h1.40V489.8h-1.40zM227.6 466.8h1.40V489.9h-1.40zM228.8 467.1h1.40V490.3h-1.40zM228.8 484.2h1.40V487.2h-1.40zM230.1 472.2h1.40V491.2h-1.40zM231.3 472.6h1.40V492.9h-1.40zM232.6 470.8h1.40V489.4h-1.40zM232.6 470.3h1.40V473.0h-1.40zM233.8 471.3h1.40V487.8h-1.40zM233.8 472.0h1.40V475.0h-1.40zM235.1 473.6h1.40V486.7h-1.40zM236.3 474.4h1.40V486.0h-1.40zM237.6 476.4h1.40V482.1h-1.40zM238.8 473.1h1.40V482.9h-1.40zM240.1 473.6h1.40V479.9h-1.40z"/>
<path fill="#5aa83c" d="M225.1 465.9h1.40V487.5h-1.40zM225.1 468.2h1.40V471.3h-1.40zM226.3 467.4h1.40V488.3h-1.40zM227.6 468.2h1.40V488.5h-1.40zM228.8 468.8h1.40V488.7h-1.40zM230.1 473.8h1.40V489.7h-1.40zM231.3 474.5h1.40V491.0h-1.40zM232.6 472.7h1.40V487.5h-1.40zM233.8 473.1h1.40V486.0h-1.40zM235.1 475.3h1.40V485.0h-1.40zM236.3 477.3h1.40V483.1h-1.40z"/>
<path fill="#c4cc34" d="M225.1 467.3h1.40V486.1h-1.40zM225.1 469.4h1.40V470.1h-1.40zM226.3 469.0h1.40V486.7h-1.40zM227.6 469.6h1.40V487.1h-1.40zM228.8 470.5h1.40V486.9h-1.40zM230.1 475.5h1.40V487.9h-1.40zM231.3 476.8h1.40V488.7h-1.40zM232.6 475.0h1.40V485.2h-1.40zM233.8 475.3h1.40V483.7h-1.40zM235.1 477.7h1.40V482.6h-1.40z"/>
<path fill="#e8902a" d="M225.1 468.6h1.40V484.8h-1.40zM226.3 470.6h1.40V485.1h-1.40zM227.6 471.1h1.40V485.7h-1.40zM228.8 472.4h1.40V485.1h-1.40zM230.1 477.5h1.40V485.9h-1.40zM231.3 479.9h1.40V485.6h-1.40zM232.6 478.9h1.40V481.3h-1.40z"/>
<path fill="#d8281e" d="M225.1 470.0h1.40V483.4h-1.40zM226.3 472.3h1.40V483.4h-1.40zM227.6 472.5h1.40V484.2h-1.40zM228.8 474.6h1.40V482.8h-1.40z"/>
<path fill="#b01818" d="M225.1 471.3h1.40V482.1h-1.40zM226.3 474.2h1.40V481.5h-1.40zM227.6 474.1h1.40V482.6h-1.40z"/>
</g>
<rect x="224.60" y="419.30" width="173.70" height="91.70" fill="none" stroke="#777" stroke-width="0.8"/>
<line x1="253.55" y1="511.00" x2="253.55" y2="509.20" stroke="#777" stroke-width="0.8"/>
<line x1="253.55" y1="419.30" x2="253.55" y2="421.10" stroke="#777" stroke-width="0.8"/>
<line x1="282.50" y1="511.00" x2="282.50" y2="509.20" stroke="#777" stroke-width="0.8"/>
<line x1="282.50" y1="419.30" x2="282.50" y2="421.10" stroke="#777" stroke-width="0.8"/>
<line x1="311.45" y1="511.00" x2="311.45" y2="509.20" stroke="#777" stroke-width="0.8"/>
<line x1="311.45" y1="419.30" x2="311.45" y2="421.10" stroke="#777" stroke-width="0.8"/>
<line x1="340.40" y1="511.00" x2="340.40" y2="509.20" stroke="#777" stroke-width="0.8"/>
<line x1="340.40" y1="419.30" x2="340.40" y2="421.10" stroke="#777" stroke-width="0.8"/>
<line x1="369.35" y1="511.00" x2="369.35" y2="509.20" stroke="#777" stroke-width="0.8"/>
<line x1="369.35" y1="419.30" x2="369.35" y2="421.10" stroke="#777" stroke-width="0.8"/>
<line x1="224.60" y1="422.10" x2="226.40" y2="422.10" stroke="#777" stroke-width="0.8"/>
<line x1="398.30" y1="422.10" x2="396.50" y2="422.10" stroke="#777" stroke-width="0.8"/>
<text x="223.0" y="425.4" font-size="9.6" text-anchor="end">0.9</text>
<line x1="224.60" y1="433.56" x2="226.40" y2="433.56" stroke="#777" stroke-width="0.8"/>
<line x1="398.30" y1="433.56" x2="396.50" y2="433.56" stroke="#777" stroke-width="0.8"/>
<text x="223.0" y="436.86" font-size="9.6" text-anchor="end">0.8</text>
<line x1="224.60" y1="445.02" x2="226.40" y2="445.02" stroke="#777" stroke-width="0.8"/>
<line x1="398.30" y1="445.02" x2="396.50" y2="445.02" stroke="#777" stroke-width="0.8"/>
<text x="223.0" y="448.32" font-size="9.6" text-anchor="end">0.7</text>
<line x1="224.60" y1="456.48" x2="226.40" y2="456.48" stroke="#777" stroke-width="0.8"/>
<line x1="398.30" y1="456.48" x2="396.50" y2="456.48" stroke="#777" stroke-width="0.8"/>
<text x="223.0" y="459.78" font-size="9.6" text-anchor="end">0.6</text>
<line x1="224.60" y1="467.94" x2="226.40" y2="467.94" stroke="#777" stroke-width="0.8"/>
<line x1="398.30" y1="467.94" x2="396.50" y2="467.94" stroke="#777" stroke-width="0.8"/>
<text x="223.0" y="471.24" font-size="9.6" text-anchor="end">0.5</text>
<line x1="224.60" y1="479.40" x2="226.40" y2="479.40" stroke="#777" stroke-width="0.8"/>
<line x1="398.30" y1="479.40" x2="396.50" y2="479.40" stroke="#777" stroke-width="0.8"/>
<text x="223.0" y="482.7" font-size="9.6" text-anchor="end">0.4</text>
<line x1="224.60" y1="490.86" x2="226.40" y2="490.86" stroke="#777" stroke-width="0.8"/>
<line x1="398.30" y1="490.86" x2="396.50" y2="490.86" stroke="#777" stroke-width="0.8"/>
<text x="223.0" y="494.16" font-size="9.6" text-anchor="end">0.3</text>
<line x1="224.60" y1="502.32" x2="226.40" y2="502.32" stroke="#777" stroke-width="0.8"/>
<line x1="398.30" y1="502.32" x2="396.50" y2="502.32" stroke="#777" stroke-width="0.8"/>
<text x="223.0" y="505.62" font-size="9.6" text-anchor="end">0.2</text>
<text x="253.55" y="520.8" font-size="10.3" text-anchor="middle">20</text>
<text x="282.5" y="520.8" font-size="10.3" text-anchor="middle">40</text>
<text x="311.75" y="520.8" font-size="10.3" text-anchor="middle">60</text>
<text x="341.2" y="520.8" font-size="10.3" text-anchor="middle">80</text>
<text x="371.35" y="520.8" font-size="10.3" text-anchor="middle">100</text>
<text x="400.5" y="520.8" font-size="10.3" text-anchor="middle">120</text>
<text x="317" y="529" font-size="10.6" text-anchor="middle">Time (s)</text>
<text x="0" y="0" font-size="10.8" text-anchor="middle" transform="translate(204.8,466.8) rotate(-90)">FRET</text>
<rect x="499.70" y="417.10" width="174.60" height="92.50" fill="#fcf3e3"/>
<g shape-rendering="crispEdges">
<path fill="#f6f5f7" d="M500.2 452.8h1.40V487.2h-1.40zM501.4 455.6h1.40V481.2h-1.40zM501.4 460.1h1.40V467.9h-1.40zM502.7 456.1h1.40V481.6h-1.40zM502.7 470.5h1.40V479.2h-1.40zM503.9 458.7h1.40V479.4h-1.40zM505.2 454.7h1.40V484.9h-1.40zM506.4 462.0h1.40V480.2h-1.40zM507.7 455.9h1.40V483.4h-1.40zM508.9 457.0h1.40V479.0h-1.40zM510.2 459.8h1.40V480.2h-1.40zM510.2 459.2h1.40V466.7h-1.40zM511.4 456.3h1.40V482.7h-1.40zM512.7 458.8h1.40V481.2h-1.40zM514.0 458.4h1.40V482.9h-1.40zM515.2 461.2h1.40V482.0h-1.40zM516.5 457.7h1.40V482.6h-1.40zM516.5 469.1h1.40V476.1h-1.40zM517.7 457.0h1.40V482.4h-1.40zM517.7 460.0h1.40V467.6h-1.40zM519.0 457.1h1.40V483.2h-1.40zM519.0 460.8h1.40V468.1h-1.40zM520.2 458.4h1.40V483.8h-1.40zM520.2 458.9h1.40V466.4h-1.40zM521.5 457.1h1.40V482.2h-1.40zM521.5 461.6h1.40V469.2h-1.40zM522.7 459.7h1.40V480.5h-1.40zM524.0 458.5h1.40V481.1h-1.40zM524.0 461.4h1.40V469.4h-1.40zM525.2 456.4h1.40V481.6h-1.40zM526.5 458.3h1.40V479.5h-1.40zM527.7 458.4h1.40V479.7h-1.40zM529.0 458.3h1.40V479.7h-1.40zM530.2 457.1h1.40V479.8h-1.40zM531.5 459.2h1.40V478.8h-1.40zM532.7 458.8h1.40V480.0h-1.40zM532.7 468.8h1.40V475.7h-1.40zM534.0 459.1h1.40V479.5h-1.40zM534.0 462.5h1.40V469.4h-1.40zM535.2 459.1h1.40V476.5h-1.40zM535.2 472.3h1.40V478.6h-1.40zM536.5 456.2h1.40V481.3h-1.40zM536.5 461.8h1.40V468.8h-1.40zM537.7 457.6h1.40V481.1h-1.40zM537.7 460.8h1.40V467.2h-1.40zM539.0 459.0h1.40V482.4h-1.40zM539.0 473.1h1.40V478.9h-1.40zM540.2 457.0h1.40V484.5h-1.40zM540.2 461.7h1.40V469.2h-1.40zM541.5 460.2h1.40V481.7h-1.40zM542.7 458.8h1.40V481.9h-1.40zM542.7 458.4h1.40V465.9h-1.40zM544.0 454.3h1.40V481.5h-1.40zM544.0 458.9h1.40V466.0h-1.40zM545.2 457.6h1.40V478.3h-1.40zM546.5 460.6h1.40V479.3h-1.40zM547.7 460.2h1.40V482.4h-1.40zM549.0 459.2h1.40V481.1h-1.40zM550.2 458.0h1.40V483.9h-1.40zM551.5 460.3h1.40V477.5h-1.40zM552.7 456.3h1.40V479.1h-1.40zM552.7 459.9h1.40V466.6h-1.40zM554.0 455.6h1.40V482.7h-1.40zM555.2 455.5h1.40V482.2h-1.40zM556.5 460.4h1.40V476.8h-1.40zM557.7 456.3h1.40V482.1h-1.40zM557.7 460.4h1.40V466.4h-1.40zM559.0 456.6h1.40V480.9h-1.40zM559.0 460.4h1.40V466.7h-1.40zM560.2 460.6h1.40V477.6h-1.40zM561.5 462.6h1.40V477.5h-1.40zM561.5 473.3h1.40V478.7h-1.40zM562.7 460.9h1.40V479.4h-1.40zM562.7 472.4h1.40V478.4h-1.40zM564.0 462.0h1.40V480.7h-1.40zM564.0 461.6h1.40V467.3h-1.40zM565.2 459.4h1.40V478.4h-1.40zM565.2 462.4h1.40V469.0h-1.40zM566.5 459.4h1.40V480.6h-1.40zM567.7 463.1h1.40V477.4h-1.40zM569.0 459.1h1.40V480.2h-1.40zM570.2 461.2h1.40V478.9h-1.40zM571.5 458.1h1.40V479.7h-1.40zM571.5 470.8h1.40V476.6h-1.40zM572.7 460.9h1.40V474.4h-1.40zM574.0 461.2h1.40V477.1h-1.40zM574.0 471.2h1.40V476.3h-1.40zM575.2 461.4h1.40V476.0h-1.40zM576.5 464.6h1.40V478.5h-1.40zM576.5 470.4h1.40V477.5h-1.40zM577.7 465.1h1.40V476.3h-1.40zM579.0 461.7h1.40V476.2h-1.40zM579.0 470.9h1.40V477.3h-1.40zM580.2 464.4h1.40V477.2h-1.40zM581.5 461.8h1.40V474.8h-1.40zM581.5 466.6h1.40V478.4h-1.40zM582.7 463.1h1.40V476.2h-1.40zM584.0 462.6h1.40V475.6h-1.40zM585.2 461.8h1.40V475.0h-1.40zM585.2 468.9h1.40V476.8h-1.40zM586.5 463.0h1.40V477.6h-1.40zM586.5 464.0h1.40V470.8h-1.40zM587.7 463.5h1.40V477.4h-1.40zM587.7 461.5h1.40V472.2h-1.40zM589.0 460.0h1.40V474.7h-1.40zM589.0 460.9h1.40V468.2h-1.40zM590.2 462.7h1.40V475.0h-1.40zM590.2 465.1h1.40V474.1h-1.40zM591.5 461.1h1.40V474.6h-1.40zM592.7 462.7h1.40V473.4h-1.40zM592.7 466.9h1.40V474.5h-1.40zM594.0 464.5h1.40V475.9h-1.40zM594.0 463.2h1.40V474.3h-1.40zM595.2 465.1h1.40V479.0h-1.40zM596.5 461.1h1.40V475.7h-1.40zM596.5 467.6h1.40V478.6h-1.40zM597.7 462.8h1.40V476.7h-1.40zM597.7 474.3h1.40V479.9h-1.40zM599.0 462.6h1.40V477.5h-1.40zM599.0 465.4h1.40V474.0h-1.40zM600.2 462.8h1.40V475.8h-1.40zM600.2 472.7h1.40V478.9h-1.40zM601.5 463.1h1.40V477.0h-1.40zM602.7 463.3h1.40V478.0h-1.40zM602.7 458.8h1.40V464.8h-1.40zM604.0 464.1h1.40V478.7h-1.40zM604.0 466.2h1.40V475.6h-1.40zM605.2 460.2h1.40V474.5h-1.40zM606.5 466.4h1.40V477.4h-1.40zM606.5 466.5h1.40V472.9h-1.40zM607.7 463.6h1.40V477.4h-1.40zM609.0 463.8h1.40V475.8h-1.40zM610.2 465.2h1.40V476.4h-1.40zM611.5 463.0h1.40V473.8h-1.40zM611.5 469.9h1.40V476.4h-1.40zM612.7 462.9h1.40V475.0h-1.40zM614.0 461.4h1.40V474.6h-1.40zM615.2 463.7h1.40V474.4h-1.40zM616.5 463.3h1.40V474.1h-1.40zM617.7 463.7h1.40V477.8h-1.40zM617.7 463.1h1.40V471.0h-1.40zM619.0 463.2h1.40V477.3h-1.40zM619.0 469.1h1.40V475.6h-1.40zM620.2 461.8h1.40V473.2h-1.40zM620.2 467.0h1.40V477.1h-1.40zM621.5 464.9h1.40V476.9h-1.40zM621.5 460.4h1.40V470.8h-1.40zM622.7 461.7h1.40V476.6h-1.40zM624.0 462.3h1.40V474.1h-1.40zM625.2 463.2h1.40V476.7h-1.40zM625.2 460.8h1.40V470.2h-1.40zM626.5 462.6h1.40V477.7h-1.40zM627.7 463.8h1.40V475.1h-1.40zM629.0 459.5h1.40V474.6h-1.40zM630.2 467.2h1.40V480.2h-1.40zM631.5 462.7h1.40V474.4h-1.40zM631.5 471.7h1.40V479.8h-1.40zM632.7 462.2h1.40V474.7h-1.40zM634.0 465.0h1.40V479.7h-1.40zM634.0 462.9h1.40V472.0h-1.40zM635.2 464.8h1.40V477.9h-1.40zM636.5 460.9h1.40V472.4h-1.40zM636.5 466.0h1.40V476.5h-1.40zM637.7 463.4h1.40V476.2h-1.40zM639.0 464.0h1.40V475.1h-1.40zM640.2 463.0h1.40V477.4h-1.40zM641.5 462.8h1.40V474.7h-1.40zM642.7 465.8h1.40V477.4h-1.40zM642.7 464.9h1.40V471.6h-1.40zM644.0 463.4h1.40V475.1h-1.40zM644.0 466.1h1.40V472.0h-1.40zM645.2 465.3h1.40V479.9h-1.40zM646.5 462.0h1.40V473.9h-1.40zM646.5 470.8h1.40V475.0h-1.40zM647.7 462.5h1.40V476.5h-1.40zM649.0 462.8h1.40V477.1h-1.40zM649.0 465.4h1.40V474.2h-1.40zM650.2 464.1h1.40V475.9h-1.40zM651.5 460.7h1.40V475.3h-1.40zM652.7 463.5h1.40V476.7h-1.40zM654.0 459.6h1.40V474.4h-1.40zM655.2 464.0h1.40V478.3h-1.40zM656.5 464.5h1.40V474.9h-1.40zM657.7 460.9h1.40V474.0h-1.40zM659.0 461.2h1.40V475.0h-1.40zM659.0 466.8h1.40V473.1h-1.40zM660.2 462.0h1.40V473.3h-1.40zM661.5 462.8h1.40V477.7h-1.40zM662.7 463.1h1.40V477.3h-1.40zM664.0 462.1h1.40V477.1h-1.40zM664.0 460.6h1.40V470.2h-1.40zM665.2 460.5h1.40V475.3h-1.40zM666.5 462.9h1.40V474.0h-1.40zM666.5 462.2h1.40V468.9h-1.40zM667.7 459.9h1.40V474.6h-1.40zM667.7 468.3h1.40V474.7h-1.40z"/>
<path fill="#c4c8e4" d="M500.2 454.9h1.40V485.1h-1.40zM501.4 457.4h1.40V479.5h-1.40zM501.4 460.8h1.40V467.2h-1.40zM502.7 457.8h1.40V480.0h-1.40zM502.7 471.2h1.40V478.5h-1.40zM503.9 460.2h1.40V477.9h-1.40zM505.2 457.0h1.40V482.6h-1.40zM506.4 463.3h1.40V478.9h-1.40zM507.7 458.1h1.40V481.2h-1.40zM508.9 458.9h1.40V477.1h-1.40zM510.2 461.5h1.40V478.5h-1.40zM510.2 459.9h1.40V466.0h-1.40zM511.4 458.5h1.40V480.5h-1.40zM512.7 460.7h1.40V479.3h-1.40zM514.0 460.2h1.40V481.1h-1.40zM515.2 462.9h1.40V480.3h-1.40zM516.5 459.7h1.40V480.7h-1.40zM516.5 469.9h1.40V475.3h-1.40zM517.7 458.9h1.40V480.5h-1.40zM517.7 460.8h1.40V466.9h-1.40zM519.0 459.1h1.40V481.2h-1.40zM519.0 461.6h1.40V467.4h-1.40zM520.2 460.3h1.40V481.8h-1.40zM520.2 459.6h1.40V465.7h-1.40zM521.5 458.8h1.40V480.5h-1.40zM521.5 462.3h1.40V468.4h-1.40zM522.7 460.9h1.40V479.2h-1.40zM524.0 460.1h1.40V479.6h-1.40zM524.0 462.1h1.40V468.7h-1.40zM525.2 458.0h1.40V480.0h-1.40zM526.5 460.0h1.40V477.8h-1.40zM527.7 460.3h1.40V477.8h-1.40zM529.0 460.0h1.40V478.0h-1.40zM530.2 459.1h1.40V477.8h-1.40zM531.5 461.0h1.40V477.0h-1.40zM532.7 460.7h1.40V478.1h-1.40zM532.7 469.7h1.40V474.8h-1.40zM534.0 460.8h1.40V477.8h-1.40zM534.0 463.3h1.40V468.5h-1.40zM535.2 460.8h1.40V474.9h-1.40zM535.2 473.3h1.40V477.7h-1.40zM536.5 458.2h1.40V479.2h-1.40zM536.5 462.6h1.40V468.0h-1.40zM537.7 459.9h1.40V478.9h-1.40zM537.7 461.7h1.40V466.3h-1.40zM539.0 461.3h1.40V480.1h-1.40zM539.0 474.2h1.40V477.8h-1.40zM540.2 459.3h1.40V482.2h-1.40zM540.2 462.5h1.40V468.5h-1.40zM541.5 462.3h1.40V479.7h-1.40zM542.7 460.7h1.40V480.0h-1.40zM542.7 459.1h1.40V465.2h-1.40zM544.0 456.6h1.40V479.1h-1.40zM544.0 459.7h1.40V465.2h-1.40zM545.2 459.4h1.40V476.5h-1.40zM546.5 462.4h1.40V477.5h-1.40zM547.7 462.3h1.40V480.3h-1.40zM549.0 461.1h1.40V479.2h-1.40zM550.2 460.7h1.40V481.2h-1.40zM551.5 461.8h1.40V476.0h-1.40zM552.7 458.4h1.40V477.1h-1.40zM552.7 460.7h1.40V465.8h-1.40zM554.0 457.8h1.40V480.5h-1.40zM555.2 457.8h1.40V479.9h-1.40zM556.5 462.5h1.40V474.6h-1.40zM557.7 459.1h1.40V479.3h-1.40zM557.7 461.4h1.40V465.4h-1.40zM559.0 459.1h1.40V478.3h-1.40zM559.0 461.3h1.40V465.8h-1.40zM560.2 462.7h1.40V475.5h-1.40zM561.5 464.5h1.40V475.6h-1.40zM561.5 474.4h1.40V477.5h-1.40zM562.7 463.3h1.40V477.0h-1.40zM562.7 473.4h1.40V477.4h-1.40zM564.0 464.1h1.40V478.6h-1.40zM564.0 462.6h1.40V466.2h-1.40zM565.2 461.4h1.40V476.5h-1.40zM565.2 463.2h1.40V468.2h-1.40zM566.5 461.9h1.40V478.2h-1.40zM567.7 464.9h1.40V475.6h-1.40zM569.0 462.4h1.40V476.9h-1.40zM570.2 463.2h1.40V476.9h-1.40zM571.5 460.9h1.40V476.9h-1.40zM571.5 471.8h1.40V475.6h-1.40zM572.7 463.2h1.40V472.1h-1.40zM574.0 464.0h1.40V474.3h-1.40zM574.0 472.5h1.40V475.0h-1.40zM575.2 463.4h1.40V474.0h-1.40zM576.5 472.0h1.40V475.9h-1.40zM579.0 471.5h1.40V476.7h-1.40zM581.5 468.9h1.40V476.0h-1.40zM585.2 470.4h1.40V475.3h-1.40zM586.5 465.0h1.40V469.8h-1.40zM587.7 462.6h1.40V471.1h-1.40zM589.0 462.2h1.40V467.0h-1.40zM590.2 466.2h1.40V473.0h-1.40zM592.7 468.7h1.40V472.7h-1.40zM594.0 464.5h1.40V473.1h-1.40zM596.5 468.7h1.40V477.4h-1.40zM597.7 475.0h1.40V479.1h-1.40zM599.0 466.3h1.40V473.1h-1.40zM600.2 474.1h1.40V477.6h-1.40zM602.7 459.5h1.40V464.2h-1.40zM604.0 467.4h1.40V474.4h-1.40zM606.5 467.3h1.40V472.1h-1.40zM611.5 470.5h1.40V475.8h-1.40zM617.7 464.2h1.40V469.9h-1.40zM619.0 470.2h1.40V474.5h-1.40zM620.2 468.6h1.40V475.5h-1.40zM621.5 461.9h1.40V469.3h-1.40zM625.2 462.1h1.40V468.9h-1.40zM631.5 473.0h1.40V478.5h-1.40zM634.0 464.0h1.40V470.9h-1.40zM636.5 467.2h1.40V475.2h-1.40zM642.7 466.1h1.40V470.5h-1.40zM644.0 467.6h1.40V470.5h-1.40zM646.5 471.5h1.40V474.2h-1.40zM649.0 466.9h1.40V472.7h-1.40zM659.0 468.3h1.40V471.6h-1.40zM664.0 462.3h1.40V468.5h-1.40zM666.5 463.4h1.40V467.7h-1.40zM667.7 469.7h1.40V473.4h-1.40z"/>
<path fill="#1e2d8a" d="M500.2 456.1h1.40V483.9h-1.40zM501.4 458.4h1.40V478.5h-1.40zM501.4 461.3h1.40V466.8h-1.40zM502.7 458.7h1.40V479.0h-1.40zM502.7 471.5h1.40V478.2h-1.40zM503.9 461.1h1.40V477.0h-1.40zM505.2 458.3h1.40V481.3h-1.40zM506.4 464.1h1.40V478.1h-1.40zM507.7 459.5h1.40V479.8h-1.40zM508.9 460.1h1.40V475.9h-1.40zM510.2 462.5h1.40V477.5h-1.40zM510.2 460.4h1.40V465.6h-1.40zM511.4 459.9h1.40V479.1h-1.40zM512.7 461.9h1.40V478.1h-1.40zM514.0 461.3h1.40V480.0h-1.40zM515.2 463.9h1.40V479.3h-1.40zM516.5 460.8h1.40V479.5h-1.40zM516.5 470.5h1.40V474.7h-1.40zM517.7 460.1h1.40V479.3h-1.40zM517.7 461.2h1.40V466.4h-1.40zM519.0 460.3h1.40V480.0h-1.40zM519.0 462.1h1.40V466.9h-1.40zM520.2 461.5h1.40V480.6h-1.40zM520.2 460.1h1.40V465.2h-1.40zM521.5 459.9h1.40V479.4h-1.40zM521.5 462.8h1.40V468.0h-1.40zM522.7 461.7h1.40V478.4h-1.40zM524.0 461.0h1.40V478.6h-1.40zM524.0 462.5h1.40V468.3h-1.40zM525.2 459.0h1.40V479.1h-1.40zM526.5 461.1h1.40V476.7h-1.40zM527.7 461.5h1.40V476.6h-1.40zM529.0 461.1h1.40V476.9h-1.40zM530.2 460.4h1.40V476.5h-1.40zM531.5 462.1h1.40V475.9h-1.40zM532.7 461.9h1.40V477.0h-1.40zM532.7 470.2h1.40V474.3h-1.40zM534.0 461.8h1.40V476.7h-1.40zM534.0 463.9h1.40V468.0h-1.40zM535.2 461.9h1.40V473.8h-1.40zM535.2 474.0h1.40V476.9h-1.40zM536.5 459.5h1.40V478.0h-1.40zM536.5 463.2h1.40V467.5h-1.40zM537.7 461.3h1.40V477.4h-1.40zM537.7 462.4h1.40V465.6h-1.40zM539.0 462.8h1.40V478.6h-1.40zM539.0 475.2h1.40V476.8h-1.40zM540.2 460.7h1.40V480.8h-1.40zM540.2 462.9h1.40V468.0h-1.40zM541.5 463.6h1.40V478.4h-1.40zM542.7 461.9h1.40V478.8h-1.40zM542.7 459.6h1.40V464.7h-1.40zM544.0 458.1h1.40V477.6h-1.40zM544.0 460.2h1.40V464.7h-1.40zM545.2 460.6h1.40V475.4h-1.40zM546.5 463.6h1.40V476.3h-1.40zM547.7 463.7h1.40V478.9h-1.40zM549.0 462.3h1.40V478.0h-1.40zM550.2 462.4h1.40V479.5h-1.40zM551.5 462.8h1.40V475.0h-1.40zM552.7 459.7h1.40V475.8h-1.40zM552.7 461.3h1.40V465.2h-1.40zM554.0 459.2h1.40V479.1h-1.40zM555.2 459.1h1.40V478.6h-1.40zM556.5 464.0h1.40V473.1h-1.40zM557.7 460.9h1.40V477.4h-1.40zM557.7 462.3h1.40V464.5h-1.40zM559.0 460.8h1.40V476.7h-1.40zM559.0 461.9h1.40V465.1h-1.40zM560.2 464.2h1.40V474.0h-1.40zM561.5 465.8h1.40V474.3h-1.40zM562.7 465.0h1.40V475.3h-1.40zM562.7 474.2h1.40V476.5h-1.40zM564.0 465.6h1.40V477.1h-1.40zM564.0 463.7h1.40V465.1h-1.40zM565.2 462.7h1.40V475.2h-1.40zM565.2 463.8h1.40V467.6h-1.40zM566.5 463.6h1.40V476.5h-1.40zM567.7 466.2h1.40V474.3h-1.40zM569.0 465.0h1.40V474.3h-1.40zM570.2 464.6h1.40V475.6h-1.40zM571.5 462.9h1.40V475.0h-1.40zM571.5 472.7h1.40V474.7h-1.40zM572.7 465.2h1.40V470.0h-1.40zM574.0 466.5h1.40V471.7h-1.40zM575.2 464.8h1.40V472.5h-1.40zM579.0 472.0h1.40V476.2h-1.40zM581.5 471.4h1.40V473.5h-1.40zM585.2 471.9h1.40V473.8h-1.40zM586.5 465.7h1.40V469.1h-1.40zM587.7 463.3h1.40V470.4h-1.40zM589.0 463.3h1.40V465.9h-1.40zM590.2 467.0h1.40V472.2h-1.40zM594.0 465.4h1.40V472.2h-1.40zM596.5 469.5h1.40V476.7h-1.40zM597.7 475.6h1.40V478.5h-1.40zM599.0 466.9h1.40V472.5h-1.40zM602.7 459.9h1.40V463.7h-1.40zM604.0 468.3h1.40V473.5h-1.40zM606.5 467.8h1.40V471.5h-1.40zM611.5 471.0h1.40V475.3h-1.40zM617.7 465.0h1.40V469.1h-1.40zM619.0 471.1h1.40V473.6h-1.40zM620.2 469.9h1.40V474.2h-1.40zM621.5 463.0h1.40V468.2h-1.40zM625.2 463.0h1.40V468.0h-1.40zM631.5 474.1h1.40V477.4h-1.40zM634.0 464.8h1.40V470.1h-1.40zM636.5 468.1h1.40V474.3h-1.40zM642.7 467.2h1.40V469.4h-1.40zM646.5 472.2h1.40V473.6h-1.40zM649.0 468.2h1.40V471.4h-1.40zM664.0 463.8h1.40V467.0h-1.40zM666.5 464.4h1.40V466.7h-1.40z"/>
<path fill="#2544b0" d="M500.2 458.7h1.40V481.3h-1.40zM501.4 460.6h1.40V476.2h-1.40zM501.4 462.3h1.40V465.7h-1.40zM502.7 460.8h1.40V477.0h-1.40zM502.7 472.4h1.40V477.3h-1.40zM503.9 463.1h1.40V475.0h-1.40zM505.2 461.4h1.40V478.2h-1.40zM506.4 465.9h1.40V476.3h-1.40zM507.7 462.7h1.40V476.6h-1.40zM508.9 462.9h1.40V473.1h-1.40zM510.2 464.9h1.40V475.1h-1.40zM510.2 461.6h1.40V464.3h-1.40zM511.4 463.2h1.40V475.8h-1.40zM512.7 464.8h1.40V475.3h-1.40zM514.0 463.7h1.40V477.6h-1.40zM515.2 466.3h1.40V476.8h-1.40zM516.5 463.5h1.40V476.8h-1.40zM517.7 462.8h1.40V476.5h-1.40zM517.7 462.4h1.40V465.2h-1.40zM519.0 463.1h1.40V477.2h-1.40zM519.0 463.5h1.40V465.5h-1.40zM520.2 464.3h1.40V477.9h-1.40zM520.2 461.4h1.40V463.9h-1.40zM521.5 462.2h1.40V477.1h-1.40zM521.5 464.0h1.40V466.7h-1.40zM522.7 463.3h1.40V476.8h-1.40zM524.0 463.0h1.40V476.6h-1.40zM524.0 463.5h1.40V467.3h-1.40zM525.2 461.0h1.40V477.0h-1.40zM526.5 463.7h1.40V474.1h-1.40zM527.7 464.6h1.40V473.6h-1.40zM529.0 463.6h1.40V474.5h-1.40zM530.2 463.6h1.40V473.3h-1.40zM531.5 464.8h1.40V473.2h-1.40zM532.7 464.9h1.40V474.0h-1.40zM534.0 464.3h1.40V474.3h-1.40zM535.2 464.7h1.40V471.0h-1.40zM536.5 462.5h1.40V475.0h-1.40zM537.7 465.1h1.40V473.6h-1.40zM539.0 466.9h1.40V474.5h-1.40zM540.2 464.2h1.40V477.3h-1.40zM540.2 464.2h1.40V466.8h-1.40zM541.5 467.0h1.40V475.0h-1.40zM542.7 464.7h1.40V476.0h-1.40zM542.7 460.8h1.40V463.4h-1.40zM544.0 461.7h1.40V474.0h-1.40zM544.0 462.1h1.40V462.8h-1.40zM545.2 463.4h1.40V472.6h-1.40zM546.5 466.5h1.40V473.4h-1.40zM547.7 467.3h1.40V475.3h-1.40zM549.0 465.1h1.40V475.2h-1.40zM550.2 467.6h1.40V474.3h-1.40zM551.5 465.2h1.40V472.6h-1.40zM552.7 462.9h1.40V472.5h-1.40zM554.0 462.6h1.40V475.7h-1.40zM555.2 462.4h1.40V475.3h-1.40zM557.7 466.9h1.40V471.5h-1.40zM559.0 465.6h1.40V471.9h-1.40zM565.2 466.4h1.40V471.5h-1.40zM579.0 473.3h1.40V475.0h-1.40zM587.7 465.3h1.40V468.5h-1.40zM596.5 471.6h1.40V474.6h-1.40zM599.0 468.6h1.40V470.8h-1.40zM602.7 461.3h1.40V462.4h-1.40zM611.5 472.3h1.40V474.0h-1.40z"/>
<path fill="#2a8a70" d="M500.2 460.8h1.40V479.2h-1.40zM501.4 462.6h1.40V474.3h-1.40zM502.7 462.6h1.40V475.2h-1.40zM502.7 473.2h1.40V476.5h-1.40zM503.9 465.0h1.40V473.1h-1.40zM505.2 464.3h1.40V475.3h-1.40zM506.4 467.6h1.40V474.6h-1.40zM507.7 466.2h1.40V473.1h-1.40zM508.9 467.1h1.40V468.9h-1.40zM510.2 467.6h1.40V472.4h-1.40zM511.4 467.3h1.40V471.6h-1.40zM512.7 468.7h1.40V471.3h-1.40zM514.0 466.0h1.40V475.3h-1.40zM515.2 469.1h1.40V474.1h-1.40zM516.5 466.3h1.40V474.0h-1.40zM517.7 465.6h1.40V473.8h-1.40zM519.0 466.0h1.40V474.3h-1.40zM520.2 467.2h1.40V475.0h-1.40zM521.5 464.3h1.40V475.0h-1.40zM522.7 464.7h1.40V475.5h-1.40zM524.0 464.8h1.40V474.8h-1.40zM524.0 464.9h1.40V465.9h-1.40zM525.2 462.8h1.40V475.3h-1.40zM526.5 466.7h1.40V471.0h-1.40zM529.0 466.3h1.40V471.7h-1.40zM534.0 467.2h1.40V471.3h-1.40zM536.5 465.9h1.40V471.5h-1.40zM540.2 468.6h1.40V472.9h-1.40zM542.7 467.9h1.40V472.7h-1.40zM549.0 469.4h1.40V470.9h-1.40zM554.0 466.7h1.40V471.6h-1.40zM555.2 466.5h1.40V471.2h-1.40z"/>
<path fill="#5aa83c" d="M500.2 462.2h1.40V477.8h-1.40zM501.4 464.0h1.40V472.9h-1.40zM502.7 463.7h1.40V474.0h-1.40zM502.7 473.8h1.40V475.9h-1.40zM503.9 466.6h1.40V471.5h-1.40zM505.2 467.0h1.40V472.6h-1.40zM506.4 469.1h1.40V473.1h-1.40zM514.0 468.0h1.40V473.3h-1.40zM517.7 469.0h1.40V470.4h-1.40zM519.0 469.6h1.40V470.7h-1.40zM521.5 465.9h1.40V473.5h-1.40zM522.7 465.5h1.40V474.6h-1.40zM524.0 466.1h1.40V473.5h-1.40zM525.2 463.9h1.40V474.1h-1.40z"/>
<path fill="#c4cc34" d="M500.2 463.7h1.40V476.3h-1.40zM501.4 465.9h1.40V471.0h-1.40zM502.7 465.1h1.40V472.6h-1.40zM521.5 468.5h1.40V470.9h-1.40zM522.7 466.5h1.40V473.6h-1.40zM524.0 468.0h1.40V471.6h-1.40zM525.2 465.3h1.40V472.7h-1.40z"/>
<path fill="#e8902a" d="M500.2 465.3h1.40V474.7h-1.40zM502.7 467.0h1.40V470.8h-1.40zM522.7 467.7h1.40V472.4h-1.40zM525.2 467.1h1.40V470.9h-1.40z"/>
<path fill="#d8281e" d="M500.2 467.4h1.40V472.6h-1.40z"/>
</g>
<rect x="499.70" y="417.10" width="174.60" height="92.50" fill="none" stroke="#777" stroke-width="0.8"/>
<line x1="528.80" y1="509.60" x2="528.80" y2="507.80" stroke="#777" stroke-width="0.8"/>
<line x1="528.80" y1="417.10" x2="528.80" y2="418.90" stroke="#777" stroke-width="0.8"/>
<line x1="557.90" y1="509.60" x2="557.90" y2="507.80" stroke="#777" stroke-width="0.8"/>
<line x1="557.90" y1="417.10" x2="557.90" y2="418.90" stroke="#777" stroke-width="0.8"/>
<line x1="587.00" y1="509.60" x2="587.00" y2="507.80" stroke="#777" stroke-width="0.8"/>
<line x1="587.00" y1="417.10" x2="587.00" y2="418.90" stroke="#777" stroke-width="0.8"/>
<line x1="616.10" y1="509.60" x2="616.10" y2="507.80" stroke="#777" stroke-width="0.8"/>
<line x1="616.10" y1="417.10" x2="616.10" y2="418.90" stroke="#777" stroke-width="0.8"/>
<line x1="645.20" y1="509.60" x2="645.20" y2="507.80" stroke="#777" stroke-width="0.8"/>
<line x1="645.20" y1="417.10" x2="645.20" y2="418.90" stroke="#777" stroke-width="0.8"/>
<line x1="499.70" y1="432.78" x2="501.50" y2="432.78" stroke="#777" stroke-width="0.8"/>
<line x1="674.30" y1="432.78" x2="672.50" y2="432.78" stroke="#777" stroke-width="0.8"/>
<text x="496.9" y="436.08" font-size="9.0" text-anchor="end">0.8</text>
<line x1="499.70" y1="451.56" x2="501.50" y2="451.56" stroke="#777" stroke-width="0.8"/>
<line x1="674.30" y1="451.56" x2="672.50" y2="451.56" stroke="#777" stroke-width="0.8"/>
<text x="496.9" y="454.86" font-size="9.0" text-anchor="end">0.6</text>
<line x1="499.70" y1="470.34" x2="501.50" y2="470.34" stroke="#777" stroke-width="0.8"/>
<line x1="674.30" y1="470.34" x2="672.50" y2="470.34" stroke="#777" stroke-width="0.8"/>
<text x="496.9" y="473.64" font-size="9.0" text-anchor="end">0.4</text>
<line x1="499.70" y1="489.12" x2="501.50" y2="489.12" stroke="#777" stroke-width="0.8"/>
<line x1="674.30" y1="489.12" x2="672.50" y2="489.12" stroke="#777" stroke-width="0.8"/>
<text x="496.9" y="492.42" font-size="9.0" text-anchor="end">0.2</text>
<line x1="499.70" y1="507.90" x2="501.50" y2="507.90" stroke="#777" stroke-width="0.8"/>
<line x1="674.30" y1="507.90" x2="672.50" y2="507.90" stroke="#777" stroke-width="0.8"/>
<text x="496.9" y="511.2" font-size="9.0" text-anchor="end">0</text>
<text x="528.8" y="519.5" font-size="10.3" text-anchor="middle">20</text>
<text x="557.9" y="519.5" font-size="10.3" text-anchor="middle">40</text>
<text x="587.0" y="519.5" font-size="10.3" text-anchor="middle">60</text>
<text x="616.1" y="519.5" font-size="10.3" text-anchor="middle">80</text>
<text x="645.2" y="519.5" font-size="10.3" text-anchor="middle">100</text>
<text x="674.3" y="519.5" font-size="10.3" text-anchor="middle">120</text>
<text x="592" y="529" font-size="10.6" text-anchor="middle">Time (s)</text>
<text x="0" y="0" font-size="10.8" text-anchor="middle" transform="translate(482.8,468.2) rotate(-90)">FRET</text>
</svg></body></html>
